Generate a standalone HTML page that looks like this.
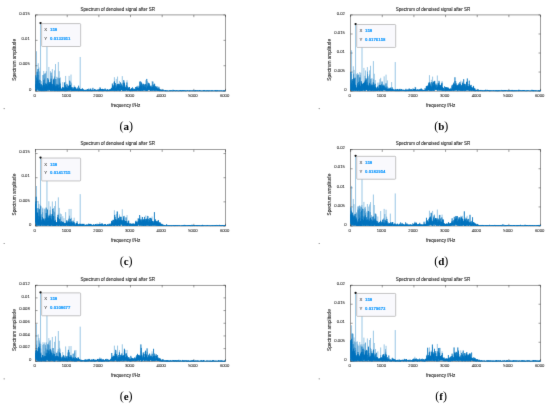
<!DOCTYPE html>
<html><head><meta charset="utf-8"><title>Spectrum of denoised signal after SR</title>
<style>
html,body{margin:0;padding:0;background:#fff;}
body{width:550px;height:409px;overflow:hidden;}
svg{display:block;}
.t{font-family:"Liberation Sans",Arial,sans-serif;font-size:4.2px;fill:#262626;stroke:#262626;stroke-width:0.05px;}
.l{font-family:"Liberation Sans",Arial,sans-serif;font-size:4.6px;fill:#262626;stroke:#262626;stroke-width:0.08px;}
.dl{font-family:"Liberation Sans",Arial,sans-serif;font-size:4.3px;fill:#333;stroke:#333;stroke-width:0.06px;}
.dv{font-family:"Liberation Sans",Arial,sans-serif;font-size:4.3px;font-weight:bold;fill:#0a96ff;stroke:#0a96ff;stroke-width:0.12px;}
.s{font-family:"Liberation Serif","Times New Roman",serif;font-size:12px;fill:#000;}
</style></head><body>
<svg width="550" height="409" viewBox="0 0 550 409">
<defs><filter id="bl" x="0" y="0" width="550" height="409" filterUnits="userSpaceOnUse" color-interpolation-filters="sRGB"><feConvolveMatrix order="3" kernelMatrix="0.00524 0.06192 0.00524 0.06192 0.73137 0.06192 0.00524 0.06192 0.00524" divisor="1" edgeMode="duplicate"/></filter></defs>
<g filter="url(#bl)"><rect width="550" height="409" fill="#fff"/>
<g><rect x="35.55" y="14.95" width="189.95" height="76.15" fill="none" stroke="#262626" stroke-width="0.45"/><path d="M35.55 91.10v-2.2M35.55 14.95v2.2" stroke="#262626" stroke-width="0.45"/><text x="34.65" y="97.05" text-anchor="middle" class="t">0</text><path d="M67.21 91.10v-2.2M67.21 14.95v2.2" stroke="#262626" stroke-width="0.45"/><text x="66.31" y="97.05" text-anchor="middle" class="t">1000</text><path d="M98.87 91.10v-2.2M98.87 14.95v2.2" stroke="#262626" stroke-width="0.45"/><text x="97.97" y="97.05" text-anchor="middle" class="t">2000</text><path d="M130.52 91.10v-2.2M130.52 14.95v2.2" stroke="#262626" stroke-width="0.45"/><text x="129.62" y="97.05" text-anchor="middle" class="t">3000</text><path d="M162.18 91.10v-2.2M162.18 14.95v2.2" stroke="#262626" stroke-width="0.45"/><text x="161.28" y="97.05" text-anchor="middle" class="t">4000</text><path d="M193.84 91.10v-2.2M193.84 14.95v2.2" stroke="#262626" stroke-width="0.45"/><text x="192.94" y="97.05" text-anchor="middle" class="t">5000</text><path d="M225.50 91.10v-2.2M225.50 14.95v2.2" stroke="#262626" stroke-width="0.45"/><text x="224.60" y="97.05" text-anchor="middle" class="t">6000</text><path d="M35.55 91.10h2M225.50 91.10h-2" stroke="#262626" stroke-width="0.45"/><text x="31.45" y="90.80" text-anchor="end" class="t">0</text><path d="M35.55 65.72h2M225.50 65.72h-2" stroke="#262626" stroke-width="0.45"/><text x="29.75" y="65.42" text-anchor="end" class="t">0.005</text><path d="M35.55 40.33h2M225.50 40.33h-2" stroke="#262626" stroke-width="0.45"/><text x="29.75" y="40.03" text-anchor="end" class="t">0.01</text><path d="M35.55 14.95h2M225.50 14.95h-2" stroke="#262626" stroke-width="0.45"/><text x="29.75" y="14.65" text-anchor="end" class="t">0.015</text><path transform="translate(35.55 91.10) scale(0.06667 0.03400)" d="M0-93l1-107 1 87 1-95 1-256 1 284 1 125 1-23 1 45 1-85 1 105 1-285 1 204 1 85 1-24 1-51 1 5 1-318 1 267 1 79 1-4 1-139 1 25 1 24 1-424 1 288 1 233 1-11 1 14 1-20 1-267 1 177 1 69 1-250 1 64 1 169 1 24 1-570 1 495 1 97 1-241 1 245 1 12 1-53 1-8 1 3 1 49 1 5 1-3 1-30 1 60 1-87 1 46 1-35 1-129 1 84 1 51 1-108 1-38 1 192 1 14 1 7 1-91 1-115 1 218 1-38 1-277 1 148 1-8 1 119 1-55 1 22 1 10 1 1 1 79 1-115 1 92 1-93 1 107 1-20 1-161 1 70 1 0 1 20 1 6 1 72 1-85 1 115 1-199 1 184 1-34 1 14 1 18 1-66 1 32 1-116 1 7 1 159 1-83 1 63 1-52 1 14 1-26 1 56 1-52 1 65 1-28 1-53 1-72 1 139 1-30 1-68 1 125 1-37 1 0 1 39 1-31 1 4 1-217 1 123 1 23 1-27 1-75 1 165 1-176 1-113 1 180 1 119 1-12 1-29 1 41 1 8 1 5 1-43 1 24 1-50 1-95 1 121 1 31 1-33 1-52 1 21 1 65 1-88 1 72 1 26 1-47 1 34 1-201 1 148 1 32 1 19 1-68 1 54 1-6 1-94 1 47 1 92 1-199 1 159 1-11 1 44 1-44 1-72 1 55 1-110 1-26 1 202 1-34 1-90 1 53 1 62 1-21 1-176 1-36 1 23 1 187 1-119 1 24 1 19 1 74 1-80 1 36 1-297 1 249 1 46 1 25 1 57 1-171 1 156 1-20 1-72 1 21 1-248 1 303 1-132 1-12 1 38 1-2 1 48 1-125 1 2 1 130 1-169 1 193 1 23 1-66 1-80 1 109 1-53 1 96 1-179 1 39 1 127 1 3 1-43 1 67 1-248 1 174 1 83 1-1 1-107 1-147 1 264 1-53 1 1 1-60 1-104 1 132 1-9 1 45 1-82 1 80 1-312 1 343 1 14 1-182 1 140 1-75 1 27 1 72 1-25 1 18 1-181 1 35 1 134 1-128 1 125 1 24 1-187 1 165 1 40 1-1 1-95 1 45 1 13 1-10 1-82 1 76 1 54 1-81 1 48 1-160 1 104 1 91 1-122 1 59 1 13 1-279 1 278 1-22 1 54 1-236 1-103 1 261 1 64 1-27 1-107 1 13 1 135 1-15 1 14 1-58 1 56 1-67 1 69 1 20 1-26 1-161 1 183 1-31 1-7 1 38 1-36 1-74 1 31 1 39 1 23 1-127 1 106 1 7 1 35 1-36 1-9 1 26 1 15 1-90 1 27 1 47 1-48 1 64 1-153 1 139 1-56 1 69 1-2 1-99 1 92 1-142 1 54 1 74 1-179 1 171 1-23 1-16 1-37 1 62 1 48 1-10 1-151 1 65 1 102 1-71 1-31 1 80 1 10 1-63 1-59 1-57 1 146 1-8 1 1 1-28 1 62 1 2 1-68 1 15 1 33 1-49 1 28 1 37 1-160 1 145 1 24 1-63 1 66 1-39 1-3 1 8 1 22 1-45 1-4 1 41 1-8 1-81 1 54 1-15 1 15 1 48 1-207 1 56 1 28 1 120 1-115 1 25 1 46 1 48 1-25 1 10 1 16 1-42 1-13 1 54 1-19 1 4 1 27 1-4 1-37 1 26 1-22 1-1 1-13 1 50 1-18 1 15 1-70 1 71 1-3 1-70 1 53 1-32 1 29 1 15 1-98 1 28 1 69 1-31 1 32 1-62 1-30 1-11 1 95 1-20 1 36 1-66 1 17 1 14 1-56 1 56 1 34 1-94 1 75 1 17 1-7 1 9 1-2 1-52 1 9 1 43 1-15 1-47 1 59 1-76 1 85 1-253 1 226 1-1 1 30 1-41 1-9 1 14 1 16 1-17 1-26 1-17 1 41 1-143 1 182 1-45 1-66 1 21 1 47 1 7 1-104 1 111 1 24 1-36 1-52 1 93 1-56 1-67 1 50 1-14 1 67 1-14 1 15 1 9 1-4 1 5 1-43 1 41 1-201 1 205 1-91 1 74 1-57 1 9 1 58 1-38 1 23 1 20 1-31 1-36 1 46 1-141 1 155 1-47 1-15 1 47 1-67 1 33 1 48 1-70 1 64 1-16 1 15 1 7 1-124 1 119 1 2 1-80 1-52 1 78 1 27 1-71 1 51 1-70 1-18 1 5 1 144 1-169 1 113 1-60 1-183 1 274 1 13 1-57 1-68 1 115 1-22 1-2 1 32 1-153 1 92 1-93 1 79 1 60 1-50 1 2 1-40 1 2 1 90 1-56 1 36 1-52 1 48 1 31 1-87 1 48 1 26 1 9 1-33 1 23 1 15 1 22 1-49 1 17 1-5 1 35 1-61 1-24 1 76 1-7 1-29 1 27 1-21 1 22 1-35 1 24 1-88 1 98 1 2 1-33 1 32 1-12 1 7 1-10 1-21 1 53 1-65 1 46 1-41 1 41 1 4 1 9 1-67 1 18 1-1 1-41 1 81 1 0 1 10 1-14 1 17 1-52 1-45 1 85 1-103 1 21 1 64 1-92 1 124 1-20 1-13 1-4 1-53 1-10 1 71 1 26 1-49 1 34 1-69 1 32 1 24 1 16 1-39 1 51 1 3 1-32 1 28 1-63 1 9 1 41 1-14 1-9 1 27 1 12 1-16 1 9 1 4 1-40 1 32 1-3 1-11 1-19 1 32 1-61 1-26 1 44 1 40 1-20 1-5 1-9 1 42 1-10 1 4 1-2 1 13 1-59 1 60 1 2 1-11 1 14 1-32 1 21 1-29 1-118 1 113 1 35 1-29 1 24 1 3 1-18 1 23 1-7 1-34 1-6 1 45 1-8 1-79 1 56 1-17 1 55 1-7 1-47 1 46 1-26 1 25 1-5 1-2 1-33 1 23 1 26 1-20 1 11 1-2 1-34 1 32 1 3 1-12 1 6 1 12 1-14 1-25 1 33 1-22 1 24 1 5 1-7 1-44 1 28 1 9 1 16 1-14 1 6 1 5 1 0 1-35 1 15 1 17 1-14 1-7 1-55 1 50 1 30 1-21 1 14 1-3 1-39 1 17 1 20 1-29 1 23 1 21 1-3 1-19 1-16 1 40 1-4 1 1 1-8 1-31 1 39 1-11 1 2 1 3 1 5 1-7 1 0 1-4 1-1 1 15 1-24 1 20 1-29 1-1 1 27 1-8 1 8 1-19 1 24 1-19 1 19 1-10 1-1 1 4 1-4 1 15 1-27 1 15 1-7 1 16 1-21 1 1 1 16 1 3 1-38 1 21 1 16 1-2 1-10 1 11 1-21 1-12 1 30 1 0 1-9 1-8 1 15 1-22 1 12 1 10 1 4 1-15 1 4 1-12 1 28 1-39 1 35 1-54 1 46 1-7 1 13 1 1 1-29 1 20 1-7 1-3 1 26 1-25 1 9 1 7 1 6 1-17 1-9 1 14 1-8 1-9 1 5 1-45 1 65 1 0 1-47 1 24 1 18 1-21 1 24 1-11 1 16 1-23 1 3 1 5 1 9 1 8 1-19 1-4 1 11 1 11 1-4 1-15 1 22 1-11 1-3 1 11 1-12 1-31 1 29 1-58 1 64 1 9 1-42 1-2 1 41 1-23 1 19 1-15 1 20 1-10 1 0 1 14 1-32 1 8 1 19 1-2 1 2 1-12 1 2 1-7 1 20 1-37 1 32 1-1 1-3 1-7 1 15 1-31 1 33 1-15 1-10 1 23 1-92 1 86 1 6 1-23 1 12 1 6 1 2 1-15 1 4 1-8 1 6 1-3 1 4 1 4 1 0 1 11 1-10 1 2 1 3 1-24 1 13 1-2 1-42 1 62 1-11 1-18 1 9 1 3 1 10 1-38 1 31 1 9 1 3 1-26 1-13 1 35 1 4 1-40 1 36 1-9 1 2 1 6 1-4 1 3 1-6 1-14 1 28 1-24 1 16 1-24 1 12 1-8 1 17 1-17 1 15 1 2 1-8 1 1 1-3 1 5 1 14 1-1 1-9 1-5 1 5 1-36 1 44 1-13 1 6 1 3 1 6 1-17 1-5 1 10 1-3 1-9 1 20 1-24 1-9 1 10 1 0 1 17 1-16 1 15 1 5 1 5 1-22 1 3 1 10 1 13 1-38 1-1 1 36 1-2 1-3 1-5 1-2 1-49 1 45 1 4 1-26 1 25 1 1 1 5 1-7 1-9 1 26 1-21 1 9 1-43 1 32 1-77 1 75 1 4 1 3 1-23 1 32 1-10 1-39 1 12 1 36 1-5 1 4 1-44 1 39 1 5 1-9 1 4 1 2 1-45 1 46 1-10 1 17 1-2 1 0 1-13 1-29 1 50 1-14 1 11 1 2 1-8 1 8 1-10 1-55 1 50 1-40 1 12 1 37 1-6 1-23 1 22 1-12 1-24 1 25 1-4 1 23 1 4 1-13 1-15 1-23 1 33 1 19 1-2 1-1 1-22 1 5 1 0 1 9 1-22 1 29 1-5 1-33 1 37 1-7 1 5 1-25 1 13 1 9 1-4 1-11 1-27 1 50 1-75 1 49 1 22 1 2 1-24 1 16 1-26 1 22 1-2 1 9 1-8 1-12 1-10 1 23 1 6 1 5 1 2 1-20 1 13 1-17 1 11 1-11 1-12 1 30 1 0 1-13 1 19 1-22 1 26 1-1 1-22 1 22 1-33 1 2 1 26 1-43 1 30 1 9 1-18 1-18 1-6 1 31 1 15 1-39 1 32 1-13 1 9 1 5 1 2 1 0 1 5 1-27 1 30 1-18 1 13 1-15 1 12 1 4 1 0 1-2 1 4 1-30 1 16 1-6 1 5 1-2 1 19 1-43 1 33 1 9 1-17 1 5 1-31 1 42 1-1 1-10 1 10 1-44 1 26 1-32 1 43 1-14 1-7 1 15 1 9 1 5 1-16 1-3 1 20 1-18 1-41 1 16 1 7 1-54 1 10 1 13 1 55 1-53 1 32 1-49 1 73 1-9 1-31 1 38 1-50 1-42 1 3 1 97 1-62 1-154 1 101 1-35 1-13 1 148 1-14 1 8 1-113 1 85 1-23 1 8 1 49 1 12 1-124 1 95 1-45 1-18 1 95 1-93 1 0 1 13 1 41 1-128 1 113 1 24 1 23 1-77 1-12 1-155 1 107 1 93 1-229 1 285 1-71 1-111 1 112 1-20 1 37 1 33 1-1 1-35 1 10 1-124 1 142 1-73 1-135 1 83 1 70 1 75 1-24 1 13 1-69 1 15 1 54 1 7 1-1 1-56 1 46 1-9 1 16 1-26 1 39 1-69 1 42 1 5 1-106 1 70 1 51 1-181 1 133 1-76 1-7 1 124 1-43 1-25 1 74 1-43 1-151 1 62 1 79 1 16 1-49 1-51 1 113 1 7 1-22 1-149 1 151 1-17 1-12 1 22 1 9 1 45 1-213 1 165 1 5 1-98 1 36 1 40 1 25 1-20 1-89 1 81 1 46 1-152 1 85 1-115 1 110 1 65 1 29 1-38 1-17 1 39 1-5 1 13 1-38 1 22 1-45 1 70 1-17 1-135 1 47 1-151 1 153 1 101 1-66 1-78 1 18 1 11 1 9 1 32 1 45 1-120 1-69 1 154 1-6 1-51 1 87 1 6 1-40 1-116 1 152 1-23 1-84 1 85 1-50 1 35 1 34 1-127 1 152 1-13 1 7 1-1 1 10 1-104 1 26 1 67 1 1 1-32 1-49 1 10 1 53 1-47 1-158 1 194 1-58 1 89 1-81 1 86 1-74 1 77 1-312 1 293 1-13 1-74 1 86 1 16 1-99 1 98 1-74 1-58 1-97 1 114 1-83 1 162 1-18 1 0 1 33 1-88 1 119 1-23 1 20 1-3 1-118 1 38 1 16 1 35 1 5 1-57 1 68 1 16 1-43 1-14 1-34 1 9 1 75 1-89 1 73 1-62 1-83 1 146 1 4 1-5 1-9 1-28 1 4 1 29 1-20 1-198 1 61 1 136 1 10 1 17 1-3 1 16 1-24 1-93 1 2 1 78 1-7 1 46 1-16 1-24 1 48 1-57 1 17 1-15 1 8 1-43 1 18 1 33 1 21 1-1 1-15 1-48 1 44 1-17 1 36 1-33 1 46 1-99 1 46 1-40 1 60 1 37 1 3 1-116 1 103 1-38 1 25 1 9 1 20 1-5 1-13 1 19 1-19 1 12 1-9 1 10 1-11 1-2 1 12 1 7 1-6 1-3 1-39 1 47 1-10 1-27 1 13 1 17 1-21 1-18 1 12 1 35 1-80 1 51 1 21 1 6 1-83 1 76 1-18 1 19 1-6 1 3 1-15 1 17 1-41 1 44 1-37 1 43 1-32 1-78 1 110 1-64 1 26 1 19 1 7 1-7 1 0 1 6 1 4 1-11 1-11 1-19 1 40 1-20 1 23 1 4 1-71 1 38 1 22 1-7 1 10 1-13 1 22 1-33 1-6 1 1 1 17 1 13 1-55 1 64 1-39 1 29 1-1 1-9 1-34 1 25 1 6 1-7 1 17 1-38 1 20 1 11 1 18 1-12 1-5 1 16 1-102 1 26 1-30 1 39 1 39 1 11 1 14 1-109 1 93 1-9 1 31 1-11 1-14 1 11 1-46 1 24 1-96 1 102 1-39 1 68 1-9 1-37 1-1 1 45 1-94 1 12 1 23 1-8 1 5 1 37 1-26 1 23 1-76 1 49 1 40 1-1 1-135 1 73 1 57 1-39 1-12 1 47 1-49 1 2 1 73 1-19 1 11 1-12 1 18 1-92 1 27 1 10 1-27 1 1 1 12 1 8 1-37 1 42 1-51 1 31 1 64 1-125 1 124 1-259 1 273 1-78 1 74 1-45 1 37 1-27 1-237 1 268 1-70 1 73 1-179 1 105 1 11 1-76 1 22 1 70 1 45 1 4 1-26 1-1 1-74 1-17 1 114 1-54 1-187 1 232 1-50 1 24 1-91 1 62 1-146 1 180 1 15 1-20 1 2 1 29 1-15 1-16 1-24 1 60 1-15 1-167 1 187 1-19 1-39 1 15 1 8 1-84 1 3 1-41 1 141 1-35 1-17 1-139 1 190 1-40 1-43 1 73 1-35 1 2 1-20 1 15 1-71 1 36 1 63 1-26 1-124 1 153 1 24 1-106 1 84 1-29 1 32 1-67 1 76 1-95 1-69 1 168 1-85 1 39 1 20 1 5 1 28 1-185 1-10 1 186 1-82 1 59 1-48 1 28 1-33 1 57 1 34 1-47 1 22 1-17 1 9 1 6 1 9 1 22 1-1 1-17 1 20 1-355 1 305 1 10 1-147 1 176 1-48 1-20 1 16 1 40 1 19 1-40 1 15 1-88 1 68 1-88 1 93 1-88 1 113 1 3 1-39 1-27 1-164 1 190 1 32 1-20 1-1 1-16 1 28 1-67 1-129 1 161 1 27 1-120 1 19 1 59 1-29 1-5 1-100 1 188 1-121 1 71 1 17 1 2 1-13 1 35 1-77 1 53 1 33 1-137 1 94 1-47 1 55 1-10 1 43 1-8 1 29 1-106 1 83 1 32 1-146 1 138 1-104 1 110 1-36 1 29 1-70 1-2 1 52 1 0 1-22 1-59 1 94 1-57 1 33 1-34 1 11 1-95 1 73 1 14 1 30 1 14 1-19 1-3 1-2 1 14 1 8 1-80 1 95 1-101 1 103 1 10 1-274 1 103 1 153 1-80 1 4 1 66 1-29 1-127 1 117 1 38 1 6 1 4 1-119 1 59 1-3 1 16 1 49 1 13 1-88 1 82 1-18 1-98 1-60 1 152 1-32 1 70 1-82 1-133 1 113 1 42 1 11 1 8 1 10 1-12 1-68 1 81 1-26 1-74 1 90 1 28 1 4 1 9 1-23 1-56 1-72 1 140 1-57 1 48 1 2 1-60 1 20 1-9 1 12 1-52 1 56 1-32 1 35 1 36 1-98 1 47 1 41 1-38 1-10 1 25 1-93 1 111 1-31 1 25 1-26 1 53 1-73 1 46 1-5 1 0 1-2 1 35 1-22 1 14 1 11 1-10 1 8 1-3 1-9 1 10 1-74 1 60 1 0 1-10 1-14 1 6 1-3 1-85 1 121 1-44 1-30 1 66 1 2 1-48 1 59 1-27 1 22 1-4 1-20 1 14 1-43 1 8 1 35 1 15 1-21 1 20 1-13 1 14 1-3 1-10 1-12 1 2 1-1 1 6 1-32 1 12 1 28 1-24 1 7 1 22 1-9 1 4 1 4 1-4 1-11 1 13 1 9 1-20 1 17 1-5 1 7 1-10 1-28 1 10 1 9 1 8 1 2 1-16 1 15 1-25 1 26 1-15 1 11 1 6 1-13 1 19 1-9 1-1 1 8 1 0 1-8 1-36 1 29 1 16 1-9 1 6 1-11 1 11 1 5 1-2 1-2 1-12 1 12 1-4 1 1 1-3 1 7 1-9 1 0 1-3 1 6 1 0 1-1 1-5 1 11 1 0 1-4 1 8 1-3 1-6 1 6 1 2 1-5 1 1 1-25 1 31 1-5 1-17 1 21 1-6 1 0 1 7 1-5 1-13 1 15 1-4 1-2 1 6 1-8 1 10 1-2 1 2 1 0 1 1 1-2 1-12 1 7 1 3 1 0 1-3 1 6 1-7 1-2 1 9 1-14 1 9 1 2 1 1 1 2 1-2 1-10 1 0 1 12 1 0 1-1 1 0 1 1 1-9 1 4 1 1 1-2 1 3 1-1 1 1 1 2 1 0 1-2 1 2 1-2 1 0 1 3 1-12 1 2 1 3 1-2 1 0 1-2 1 2 1 9 1-11 1 7 1-9 1 11 1-2 1-25 1 28 1-2 1 1 1 2 1-3 1-6 1-4 1 7 1 7 1-1 1-7 1 5 1 1 1-5 1-12 1 13 1 5 1-2 1-5 1-4 1 5 1-1 1-5 1 9 1-15 1 11 1-7 1 13 1-1 1 3 1-5 1-1 1-7 1 1 1 5 1-1 1 1 1 7 1-1 1-4 1-1 1-3 1-1 1 5 1-34 1 32 1 4 1-7 1 8 1-5 1 6 1-12 1 11 1-4 1-1 1 3 1 2 1-21 1 9 1 11 1-2 1-7 1 8 1-2 1-6 1-6 1-4 1 14 1 3 1-17 1 18 1 1 1 2 1-4 1 4 1-6 1-4 1 9 1 0 1-2 1-2 1 3 1-3 1-2 1 8 1-4 1 1 1-9 1 11 1-12 1-9 1 10 1 5 1 5 1-12 1 3 1 4 1-4 1 4 1 5 1 0 1-22 1 18 1-2 1 4 1-2 1 4 1-7 1-2 1 9 1-2 1-8 1-2 1 8 1-2 1 6 1 1 1-7 1-2 1 9 1-7 1 2 1 2 1-3 1 0 1-9 1 16 1-5 1 0 1-1 1 6 1-7 1 3 1-1 1 2 1-2 1-2 1-1 1 0 1 7 1-12 1 3 1 7 1-4 1-6 1 12 1-14 1 13 1-3 1-3 1-14 1 17 1 0 1 1 1-26 1 24 1-2 1-11 1 10 1 7 1-9 1 8 1 3 1-6 1 1 1-8 1 12 1 0 1-4 1 4 1-4 1 3 1-19 1 13 1 8 1-6 1-1 1 1 1-2 1 4 1-13 1 16 1-7 1 2 1 0 1 4 1-10 1 6 1 2 1 2 1-24 1 25 1-24 1 21 1-4 1-4 1 0 1 8 1-6 1-10 1 15 1-3 1 3 1 4 1 0 1-2 1-1 1-5 1-13 1 15 1-11 1 12 1 5 1-1 1-10 1 10 1-4 1 3 1-3 1-9 1 3 1 8 1-4 1-2 1 8 1-19 1 20 1-13 1 9 1-1 1 1 1 1 1 4 1-3 1-1 1-1 1-1 1 3 1-3 1 0 1 5 1-3 1 2 1-9 1 9 1 0 1 1 1-3 1 1 1-9 1-1 1 10 1-5 1-1 1 5 1-1 1-19 1 21 1-10 1-3 1 9 1-4 1-6 1 8 1-1 1 7 1-4 1 3 1-8 1 2 1 2 1 7 1-6 1 0 1 4 1-4 1 3 1 1 1-5 1 4 1 0 1 2 1-3 1-7 1 10 1-9 1-6 1 13 1 3 1 1 1-2 1-10 1 3 1 0 1 9 1-2 1-13 1 14 1-3 1-1 1-4 1-9 1 15 1 2 1-13 1 5 1 6 1-3 1 0 1-2 1 0 1 5 1-4 1 2 1 3 1-5 1 5 1-5 1 1 1-2 1-1 1 5 1 4 1-2 1-3 1 1 1-10 1-6 1 12 1 5 1-12 1 12 1 1 1-11 1 8 1 0 1 4 1-1 1-2 1-5 1-1 1 5 1 5 1-4 1-6 1-2 1 7 1-2 1 2 1-5 1-9 1 13 1 0 1 4 1-3 1-2 1-3 1 5 1 4 1-16 1 15 1-1 1 1 1-8 1-1 1-2 1 10 1-3 1 5 1-6 1 0 1-2 1 9 1-10 1 3 1 4 1-7 1 8 1-8 1 0 1-9 1 19 1-17 1 2 1 14 1-13 1 5 1 5 1-4 1 0 1 6 1-10 1 11 1-9 1 7 1-2 1-5 1 4 1 2 1-3 1 3 1-14 1 17 1-5 1 2 1-6 1 2 1 4 1-1 1-2 1 5 1-4 1 3 1 0 1-25 1 15 1 12 1-8 1 5 1 1 1-3 1 0 1 5 1-4 1-7 1 6 1 3 1 0 1-1 1-2 1 1 1 1 1-6 1 6 1-16 1 16 1 0 1 2 1 0 1-4 1 0 1-21 1 20 1-8 1 12 1-15 1 12 1 1 1 4 1-2 1-4 1 5 1-2 1-4 1 3 1-7 1 6 1-9 1 10 1 4 1-8 1 8 1-4 1-4 1 8 1 1 1-4 1 0 1-5 1-1 1 9 1-6 1 0 1 5 1 0 1-2 1 1 1-4 1 1 1 3 1-2 1 1 1-4 1 6 1-4 1 0 1-2 1 3 1 4 1-8 1 0 1 2 1 6 1-8 1 0 1 3 1 5 1-10 1 10 1-5 1-16 1 16 1 2 1-2 1-12 1 16 1-3 1-11 1 15 1-6 1 1 1-10 1 11 1 1 1-15 1 16 1-4 1 6 1-13 1 12 1 1 1-11 1 7 1 2 1 2 1 0 1-10 1 2 1 5 1 4 1-3 1-5 1-1 1 7 1-1 1-2 1-7 1 10 1-5 1 5 1 2 1-7 1 3 1-9 1 11 1-4 1-7 1 9 1 2 1 0 1-10 1 11 1-1 1-1 1 2 1-4 1 4 1-14 1 0 1 8 1 1 1 3 1-11 1-10 1 21 1-8 1 5 1 4 1-3 1 3 1 2 1-4 1 2 1 0 1 0 1-10 1 10 1-5 1 1 1-5 1 11 1-1 1-14 1 8 1 6 1-6 1 6 1-4 1-11 1 10 1-8 1 3 1 3 1 4 1 2 1-3 1-6 1 11 1-2 1-7 1 5 1 3 1-1 1-2 1-8 1 5 1 2 1 3 1-10 1 10 1-2 1-4 1 3 1 3 1-2 1 3 1-3 1-8 1 9 1 1 1-5 1 6 1 0 1 1 1-16 1 11 1-7 1 5 1 4 1-19 1 21 1-6 1-9 1 15 1-7 1 3 1-5 1-5 1 4 1 5 1 1 1-1 1 2 1-1 1 4 1-4 1 4 1-1 1-8 1 6 1 2 1-1 1-6 1 1 1 7 1-3 1-3 1 0 1-2 1 6 1 0 1-15 1 7 1-1 1 4 1 1 1-2 1-5 1 11 1 1 1-3 1 1 1 2 1-9 1 9 1 2 1-5 1 1 1 1 1-18 1 12 1 6 1-10 1 12 1-1 1 1 1-19 1 17 1 2 1-15 1 10 1 5 1-23 1 1 1 14 1 9 1-4 1-1 1 2 1 0 1-3 1 4 1 1 1-3 1 4 1-14 1 1 1 7 1 2 1 1 1-11 1 11 1-6 1 3 1 0 1-21 1 26 1-3 1-1 1 3 1 1 1-6 1 4 1-5 1 4 1-3 1 5 1-5 1 7 1-10 1 0 1 6 1-4 1 1 1 2 1-2 1 1 1 1 1 2 1-1 1-8 1 12 1-10 1 1 1 3 1-2 1 5 1-10 1 12 1 0 1-6 1-3 1-2 1 5 1 2 1-3 1-5 1 11 1 0 1-3 1-2 1-1 1 0 1 2 1-5 1-1 1 8 1 3 1-7 1 2 1 0 1-6 1 10 1-3 1-11 1 14 1 0 1-3 1-1 1-3 1 8 1-4 1-1 1 5 1-3 1 0 1 1 1 1 1-2 1 0 1-6 1 8 1-2 1 3 1 1 1-5 1-3 1 8 1 0 1-1 1-4 1-2 1 2 1 4 1-9 1 8 1 0 1-16 1 13 1-5 1 8 1-2 1 1 1-8 1 2 1 7 1-5 1 3 1 1 1 2 1-11 1 7 1-10 1 12 1-1 1 1 1-1 1 1 1-4 1 5 1-1 1 0" fill="none" stroke="#0072bd" stroke-width="0.6" vector-effect="non-scaling-stroke" stroke-linejoin="round"/><path d="M36.50 91.10V51.23M38.24 91.10V63.22M39.03 91.10V67.50M40.55 91.10V23.10M42.83 91.10V75.08M44.73 91.10V73.42M45.05 91.10V73.98M46.95 91.10V41.47M48.85 91.10V66.96M50.43 91.10V71.14M52.33 91.10V69.10M54.55 91.10V70.35M55.49 91.10V64.06M58.34 91.10V62.06M59.29 91.10V71.20M62.78 91.10V82.14M65.63 91.10V75.94M69.11 91.10V75.88M71.01 91.10V74.54M80.19 91.10V56.97M99.82 91.10V87.03M114.38 91.10V77.21M116.28 91.10V78.87M117.55 91.10V76.57M119.44 91.10V80.88M122.29 91.10V76.14M124.19 91.10V81.45M127.04 91.10V80.25M140.97 91.10V81.48M143.19 91.10V83.71M145.72 91.10V80.16M147.30 91.10V81.09M149.52 91.10V83.60M152.05 91.10V81.16M59.37 91.10V77.95M38.62 91.10V74.98M41.39 91.10V81.11M51.91 91.10V75.70M54.10 91.10V80.24M57.83 91.10V78.18M44.00 91.10V74.41M56.44 91.10V79.12M60.45 91.10V77.46M39.66 91.10V71.33M59.41 91.10V78.65M57.77 91.10V77.37M43.71 91.10V70.97M51.36 91.10V72.44M51.39 91.10V81.01M39.22 91.10V79.24M45.42 91.10V72.87M44.56 91.10V78.54M55.45 91.10V79.03M59.96 91.10V81.77M37.42 91.10V74.92M56.70 91.10V76.74M50.98 91.10V72.87M54.42 91.10V77.68M53.80 91.10V81.29M55.45 91.10V79.15M54.44 91.10V76.38M46.26 91.10V71.15M58.97 91.10V78.37M43.06 91.10V74.96M70.00 91.10V84.51M71.62 91.10V83.32M70.81 91.10V81.94M64.40 91.10V83.10M74.16 91.10V85.25M65.73 91.10V81.77" stroke="#0072bd" stroke-width="0.5" fill="none" opacity="0.8"/><text x="117.85" y="10.65" text-anchor="middle" class="l" style="font-size:4.5px">Spectrum of denoised signal after SR</text><text x="125.65" y="106.60" text-anchor="middle" class="l" style="font-size:4.55px">frequency f/Hz</text><text transform="translate(15.60 59.80) rotate(-90)" text-anchor="middle" class="l" style="font-size:4.7px">Spectrum amplitude</text><rect x="41.65" y="23.60" width="39" height="22.9" rx="0.8" fill="#f9f9fd" stroke="#a6a6a6" stroke-width="0.65"/><circle cx="40.55" cy="23.10" r="1.15" fill="#111"/><text x="44.35" y="31.20" class="dl">X</text><text x="50.05" y="31.20" class="dv">158</text><text x="44.35" y="39.90" class="dl">Y</text><text x="50.05" y="39.90" class="dv">0.0133951</text><text x="126.15" y="130.00" text-anchor="middle" class="s">(<tspan font-weight="bold" font-size="11">a</tspan>)</text><circle cx="4.15" cy="108.60" r="0.6" fill="#777"/></g>
<g><rect x="350.60" y="14.95" width="189.95" height="76.15" fill="none" stroke="#262626" stroke-width="0.45"/><path d="M350.60 91.10v-2.2M350.60 14.95v2.2" stroke="#262626" stroke-width="0.45"/><text x="349.70" y="97.05" text-anchor="middle" class="t">0</text><path d="M382.26 91.10v-2.2M382.26 14.95v2.2" stroke="#262626" stroke-width="0.45"/><text x="381.36" y="97.05" text-anchor="middle" class="t">1000</text><path d="M413.92 91.10v-2.2M413.92 14.95v2.2" stroke="#262626" stroke-width="0.45"/><text x="413.02" y="97.05" text-anchor="middle" class="t">2000</text><path d="M445.58 91.10v-2.2M445.58 14.95v2.2" stroke="#262626" stroke-width="0.45"/><text x="444.68" y="97.05" text-anchor="middle" class="t">3000</text><path d="M477.23 91.10v-2.2M477.23 14.95v2.2" stroke="#262626" stroke-width="0.45"/><text x="476.33" y="97.05" text-anchor="middle" class="t">4000</text><path d="M508.89 91.10v-2.2M508.89 14.95v2.2" stroke="#262626" stroke-width="0.45"/><text x="507.99" y="97.05" text-anchor="middle" class="t">5000</text><path d="M540.55 91.10v-2.2M540.55 14.95v2.2" stroke="#262626" stroke-width="0.45"/><text x="539.65" y="97.05" text-anchor="middle" class="t">6000</text><path d="M350.60 91.10h2M540.55 91.10h-2" stroke="#262626" stroke-width="0.45"/><text x="346.50" y="90.80" text-anchor="end" class="t">0</text><path d="M350.60 72.06h2M540.55 72.06h-2" stroke="#262626" stroke-width="0.45"/><text x="344.80" y="71.76" text-anchor="end" class="t">0.005</text><path d="M350.60 53.02h2M540.55 53.02h-2" stroke="#262626" stroke-width="0.45"/><text x="344.80" y="52.73" text-anchor="end" class="t">0.01</text><path d="M350.60 33.99h2M540.55 33.99h-2" stroke="#262626" stroke-width="0.45"/><text x="344.80" y="33.69" text-anchor="end" class="t">0.015</text><path d="M350.60 14.95h2M540.55 14.95h-2" stroke="#262626" stroke-width="0.45"/><text x="344.80" y="14.65" text-anchor="end" class="t">0.02</text><path transform="translate(350.60 91.10) scale(0.06667 0.03354)" d="M0-161l1 106 1 21 1-536 1 219 1 193 1-46 1-122 1 277 1-3 1-140 1 156 1-150 1 101 1-166 1 238 1-87 1 17 1 65 1-144 1 67 1 86 1-9 1-16 1-81 1 46 1-290 1 113 1-6 1-57 1 172 1 118 1-104 1 53 1-166 1 222 1-2 1-203 1 85 1 81 1 40 1-236 1 160 1-65 1 116 1-99 1-190 1-55 1 111 1 158 1-25 1-85 1 202 1-265 1 230 1-46 1-260 1 290 1 38 1-163 1 139 1-35 1 70 1 7 1-184 1 105 1-79 1-225 1 191 1 196 1-139 1-18 1 118 1-26 1 69 1-89 1 34 1-109 1 136 1 9 1-58 1 39 1-35 1 19 1-6 1 60 1-104 1 57 1-34 1 40 1-44 1 62 1-36 1 33 1-31 1 41 1-4 1-15 1 7 1 3 1-70 1 98 1-61 1-32 1 75 1-209 1 223 1-71 1-81 1 65 1 10 1 33 1 40 1-157 1 128 1 3 1-40 1-71 1-10 1 129 1-14 1-42 1-84 1-99 1 63 1 175 1-30 1-78 1-31 1 149 1-112 1 72 1-151 1 175 1-28 1-36 1-60 1 162 1-17 1-391 1 369 1-92 1 90 1 7 1-71 1-55 1 107 1-82 1 126 1-66 1-20 1-26 1 78 1 23 1-48 1 60 1-35 1 7 1-32 1 2 1-230 1 230 1 61 1-221 1 172 1 44 1-240 1 181 1 32 1-44 1 10 1 40 1 15 1-46 1-15 1 53 1-179 1 201 1-158 1 74 1 3 1-129 1 156 1-81 1 56 1-66 1-36 1 82 1 72 1-197 1 188 1-18 1-13 1-4 1-14 1-155 1 232 1-215 1 102 1-82 1 127 1-1 1 18 1 8 1-94 1-66 1 50 1-114 1 266 1-225 1 2 1 206 1-102 1 73 1 43 1-2 1-53 1-62 1 18 1-30 1-171 1 264 1 11 1-158 1-88 1 229 1-57 1-112 1 111 1-52 1 74 1-291 1 124 1 182 1 47 1-44 1-274 1 185 1 105 1-69 1-43 1 136 1-39 1 29 1-53 1 37 1-50 1-152 1 145 1 75 1 29 1-108 1 32 1-86 1 133 1-55 1-79 1 57 1 43 1 34 1 3 1-84 1 73 1-139 1 172 1-52 1-2 1-33 1-31 1 74 1 26 1-82 1 116 1-140 1 77 1-89 1 121 1-84 1-12 1 97 1-59 1 44 1-103 1-97 1 212 1-60 1-63 1 14 1 44 1 71 1-98 1-88 1 174 1-24 1 3 1-57 1 2 1-14 1 90 1 3 1-129 1 142 1-46 1-11 1-10 1 8 1 44 1 31 1-39 1-37 1 64 1-26 1 35 1-167 1 100 1-6 1 7 1-58 1 120 1-147 1 25 1 115 1 7 1-35 1 27 1-31 1-56 1 80 1-51 1 42 1-145 1 24 1 94 1-9 1 13 1 38 1-101 1 63 1-10 1 71 1-260 1 205 1-18 1-25 1-10 1 33 1 23 1 29 1-159 1 72 1 101 1-32 1-14 1-60 1-59 1 103 1 24 1 33 1-87 1 48 1 34 1-82 1 81 1 0 1-60 1 21 1-71 1 89 1-173 1 45 1 145 1-10 1-90 1 24 1 99 1-18 1-42 1-40 1 47 1-12 1 63 1-17 1-1 1-16 1 14 1-77 1 22 1 47 1-16 1 36 1-24 1-2 1-38 1 55 1-17 1 23 1-26 1-10 1 3 1 26 1-76 1-23 1 115 1-23 1 9 1-32 1 26 1-83 1 59 1 23 1-116 1 112 1-15 1 36 1 5 1-18 1-31 1-9 1 9 1-24 1 25 1 18 1-43 1 37 1-20 1 37 1-5 1 2 1-12 1-148 1 160 1 6 1-21 1 32 1-40 1 29 1-52 1 33 1 1 1 0 1 23 1-162 1 121 1 3 1-115 1 118 1 27 1-10 1-13 1-121 1 79 1 21 1-9 1 64 1-30 1-37 1-15 1 57 1-14 1 49 1-52 1-143 1 185 1-69 1 43 1 0 1 18 1 8 1-3 1-32 1-100 1 89 1-225 1 256 1-13 1-17 1 49 1-66 1 7 1 51 1-54 1 70 1-175 1 114 1-87 1 139 1-58 1 19 1-13 1-31 1 16 1 24 1-9 1-90 1 122 1 2 1-5 1-3 1-156 1 108 1 7 1 17 1-69 1 64 1-12 1 18 1 35 1-38 1 22 1 0 1-106 1-14 1 83 1 31 1 20 1 3 1-27 1-74 1 89 1-50 1 59 1-52 1 51 1-11 1-29 1 15 1 26 1-11 1-9 1 34 1-193 1-24 1 121 1 2 1 97 1-89 1 29 1 8 1 1 1 15 1 21 1-34 1 15 1 42 1-59 1 44 1-118 1 121 1-26 1 28 1 7 1-3 1-58 1 62 1-68 1 69 1-54 1 34 1-31 1 40 1 3 1-19 1-30 1 26 1 15 1-22 1 32 1 3 1-14 1-5 1-29 1 37 1 14 1-97 1 48 1 33 1 14 1-52 1 40 1-8 1-25 1-23 1 30 1 6 1 29 1-33 1 19 1-27 1 18 1-8 1 19 1-41 1-8 1-26 1 88 1-70 1 44 1 14 1-27 1-17 1 49 1 6 1 5 1-40 1-65 1 80 1 20 1-2 1-21 1-10 1-13 1 35 1-32 1 39 1 5 1-16 1-16 1 15 1-6 1 14 1-8 1-29 1-5 1 53 1-57 1-47 1 91 1-44 1 32 1-19 1 34 1-9 1-22 1 30 1-45 1-6 1 16 1 38 1-20 1 9 1 14 1-6 1-2 1-11 1-23 1 41 1-17 1 8 1 9 1-2 1-21 1 12 1-5 1 8 1-6 1 12 1 2 1 7 1-5 1-11 1 11 1-38 1 2 1 26 1 0 1-6 1-15 1 10 1 28 1-22 1-11 1 24 1-1 1-32 1-12 1 46 1-12 1 16 1-26 1 7 1 1 1-6 1 28 1-2 1-29 1 30 1-6 1-40 1 44 1-17 1 15 1-6 1 10 1-6 1 3 1-46 1 45 1-29 1 18 1 16 1-14 1-8 1-9 1-16 1 33 1-18 1-31 1 49 1-11 1 24 1-38 1 27 1-6 1 17 1-9 1-4 1 14 1-6 1 4 1-4 1 2 1-29 1 32 1-16 1-38 1 18 1 28 1 3 1-7 1-6 1 14 1 4 1-8 1 8 1-7 1-48 1 44 1-7 1 2 1 16 1-4 1-61 1 48 1-11 1 28 1-2 1-17 1-6 1 20 1-37 1 34 1-17 1-4 1 8 1 17 1-15 1-1 1 19 1 0 1-2 1 3 1-28 1 6 1-2 1-37 1 3 1 36 1 14 1-33 1 40 1-8 1 0 1-2 1 4 1 1 1-17 1 11 1-22 1 10 1 5 1 13 1 0 1-2 1-8 1-23 1 24 1 11 1-5 1-3 1 7 1-12 1-2 1-8 1 2 1 22 1-36 1 23 1 15 1-22 1 11 1-1 1 11 1 1 1-19 1 2 1 18 1-3 1 3 1-17 1-13 1 12 1 4 1 11 1-20 1 15 1 0 1-5 1 12 1-40 1 41 1 1 1-13 1 12 1-1 1-14 1 17 1-31 1 24 1-22 1 6 1-45 1 65 1-20 1 20 1-11 1-8 1 16 1-13 1 14 1-18 1 10 1 12 1-25 1 24 1-11 1-33 1 44 1-3 1 1 1-28 1 28 1-20 1 0 1-2 1 7 1 6 1-29 1 23 1 9 1 6 1-17 1 9 1-17 1 18 1-27 1 20 1-16 1 9 1 17 1-8 1-4 1 20 1-10 1-10 1-20 1-3 1 42 1-48 1 31 1-60 1 43 1 30 1-39 1 41 1-19 1 12 1-9 1 5 1-13 1 25 1-9 1 6 1-12 1-5 1 19 1 1 1-27 1 21 1-35 1 19 1 10 1-25 1 38 1-5 1-45 1 35 1-5 1 14 1-19 1-13 1 26 1 1 1-44 1 53 1-21 1 5 1 6 1 13 1-10 1-2 1-8 1 14 1-6 1-1 1 6 1 2 1 3 1-6 1-1 1 5 1-24 1 4 1 8 1-10 1-18 1 34 1-67 1 72 1 2 1-7 1-15 1 13 1-40 1 36 1 8 1-12 1-1 1 3 1 2 1-10 1 18 1-10 1-33 1 43 1-40 1 38 1-4 1-25 1 12 1 8 1-18 1 37 1-23 1-15 1-25 1 26 1-4 1 22 1-37 1 42 1 12 1-34 1 11 1 15 1-13 1-89 1 95 1-7 1 20 1 2 1-4 1-19 1-1 1-14 1 39 1-37 1 15 1-2 1 16 1-11 1-15 1 22 1-2 1-17 1 29 1-8 1 1 1-16 1-4 1 24 1 4 1-52 1 47 1-29 1 24 1-16 1 19 1 5 1-32 1 27 1-5 1-10 1-24 1 38 1-7 1 11 1-19 1 13 1-18 1 15 1 10 1 0 1-9 1-22 1 23 1 0 1 12 1-29 1-18 1 40 1-2 1 8 1-30 1 6 1 10 1-29 1 43 1-33 1 23 1-16 1 18 1-11 1 17 1-58 1 33 1-2 1 23 1-4 1-6 1-17 1 8 1 23 1-24 1-15 1-7 1 44 1 3 1-25 1-52 1 41 1 37 1-3 1-60 1 37 1 19 1-16 1-2 1 21 1 2 1-16 1-6 1 16 1-9 1-7 1-26 1 25 1 19 1-16 1 5 1-15 1 22 1-5 1 9 1 0 1-20 1 26 1 0 1-14 1-2 1 13 1-33 1 6 1 8 1 12 1-7 1-7 1 12 1-9 1 17 1-22 1 16 1-16 1 23 1-4 1-12 1-4 1 21 1-23 1 12 1 9 1-2 1-22 1 20 1 6 1-1 1-13 1-68 1 72 1 1 1-3 1 9 1-2 1-31 1 38 1-10 1-3 1-35 1-24 1 64 1-20 1 24 1-5 1 9 1-23 1-2 1-113 1 114 1 0 1-15 1-63 1 83 1-35 1-21 1-78 1 18 1 134 1-144 1-1 1 98 1 26 1 14 1-104 1 84 1-10 1 10 1-117 1 0 1 96 1-60 1 89 1 21 1-79 1 17 1-120 1 50 1 89 1-19 1 26 1-79 1 80 1-104 1 67 1 47 1-222 1 118 1 26 1 64 1-22 1-150 1 50 1 153 1-254 1 121 1-4 1 39 1 72 1-77 1 56 1-78 1 104 1-205 1 234 1-18 1-65 1-114 1 92 1 41 1 57 1-69 1-61 1 25 1-10 1 30 1-40 1 112 1-138 1 38 1 115 1-74 1 33 1-223 1 262 1-93 1 23 1 32 1 30 1-72 1-3 1 78 1 8 1-80 1-33 1 78 1-14 1 5 1-19 1-74 1 101 1-190 1 153 1 23 1-7 1-9 1 62 1-87 1 25 1-210 1 213 1 58 1-94 1-73 1 114 1 46 1-121 1 31 1 46 1-132 1-84 1 245 1 19 1-15 1 9 1-64 1-161 1 34 1-74 1 209 1 55 1-231 1 140 1-111 1 123 1-207 1 151 1 84 1-7 1-5 1 14 1-32 1-54 1 16 1 62 1 46 1-71 1 29 1-7 1-110 1 113 1 33 1-22 1-1 1-156 1 154 1 25 1-29 1 30 1-53 1-3 1 28 1-40 1-65 1 2 1 107 1 8 1 6 1-13 1 7 1 29 1-20 1-24 1 5 1 0 1 53 1-105 1 92 1-107 1-32 1 55 1 31 1 6 1-9 1-19 1 84 1-213 1 132 1 31 1-130 1 145 1-9 1 12 1-62 1 41 1-159 1 140 1-90 1 169 1-293 1 186 1-63 1 58 1 107 1-18 1-85 1 53 1-11 1 45 1-31 1 24 1-35 1-99 1 65 1 68 1-33 1-45 1 36 1-3 1 69 1-39 1 28 1 9 1-136 1 105 1-77 1-41 1 131 1-148 1 24 1 115 1 7 1 14 1-58 1 56 1 11 1-84 1 0 1-122 1 130 1 57 1-10 1 33 1-133 1-105 1 151 1 75 1-5 1-85 1 87 1-11 1-84 1 21 1 15 1-16 1 95 1-51 1-22 1 79 1-30 1-9 1-34 1 71 1-82 1 29 1-40 1 54 1 22 1 1 1-7 1 7 1-9 1 12 1-4 1 15 1 0 1 2 1-38 1 22 1 9 1-21 1-32 1-4 1-75 1 96 1 17 1 19 1-44 1 39 1 3 1 2 1-4 1-90 1 99 1-58 1-57 1 56 1 55 1-89 1 99 1-66 1 63 1-39 1-41 1 75 1-14 1-46 1-36 1 95 1-30 1-53 1 64 1 16 1-109 1 90 1-25 1 37 1 10 1-67 1 71 1-29 1-1 1 18 1 0 1-75 1 83 1-12 1-46 1 31 1-56 1 60 1-2 1-86 1 118 1-28 1-20 1 36 1-75 1 57 1-37 1 20 1-22 1 39 1 10 1 5 1-43 1-3 1 30 1-8 1 19 1 19 1-23 1-16 1 41 1-41 1-30 1 48 1 0 1-16 1-19 1 47 1-9 1 15 1-44 1 21 1 8 1-31 1 32 1 4 1-37 1 7 1 37 1-31 1 21 1-3 1-17 1 15 1-72 1 60 1-31 1 64 1-59 1 6 1 43 1-30 1 0 1 10 1-9 1 35 1-12 1 1 1 15 1-47 1-7 1-102 1 106 1-74 1-14 1-44 1 166 1-59 1-23 1 69 1 21 1-73 1 55 1-29 1-35 1-26 1 89 1-95 1 44 1-109 1 81 1 64 1-166 1 135 1 74 1-53 1-195 1 174 1-25 1 58 1-7 1 44 1-79 1 20 1 49 1-74 1 29 1 12 1-85 1-73 1-6 1 196 1-7 1-42 1 32 1-378 1 370 1-257 1 232 1 37 1-145 1 22 1 69 1 67 1-80 1-102 1 65 1 36 1 27 1-15 1 0 1 19 1 21 1-185 1 64 1 89 1 44 1-81 1 0 1-42 1 95 1 3 1 27 1-43 1-111 1 113 1 52 1 21 1-11 1-8 1-119 1 124 1-30 1-130 1 109 1-76 1 95 1 14 1 25 1 6 1-77 1 52 1-121 1 60 1-86 1 125 1-40 1 62 1-166 1 28 1 2 1 7 1 97 1 32 1-2 1-42 1-10 1-149 1 197 1-32 1 3 1-100 1-30 1 180 1-18 1-29 1 18 1-157 1 31 1-103 1 85 1 178 1-61 1 30 1-115 1 50 1 18 1 12 1-143 1 197 1-29 1-53 1 66 1 20 1-139 1 101 1 49 1-28 1-74 1 79 1-69 1 78 1-2 1 6 1-21 1-134 1 61 1 67 1 17 1-147 1 26 1 128 1-28 1-142 1 114 1 1 1 60 1-112 1 110 1-78 1-158 1 229 1-8 1-82 1-108 1 90 1 121 1 3 1-32 1-178 1 98 1 89 1-54 1 62 1-87 1-54 1-194 1 287 1 13 1 48 1-57 1-108 1 80 1 51 1 14 1-10 1 3 1-74 1-104 1 123 1 9 1 11 1-83 1 150 1-216 1 183 1-66 1 86 1-21 1 7 1-20 1-81 1 123 1-192 1 138 1-22 1 65 1-56 1 16 1 7 1 23 1-28 1-19 1 53 1-28 1-13 1 1 1 1 1-155 1-60 1 220 1-54 1-13 1-142 1 244 1-31 1-99 1 119 1-42 1 10 1-65 1-248 1 272 1 73 1-121 1 83 1 43 1-39 1-31 1-10 1 78 1-51 1 2 1 10 1-88 1 86 1-5 1 35 1 16 1-113 1 42 1 37 1-63 1 99 1 5 1-37 1-34 1-122 1 86 1 64 1-252 1 310 1-110 1 86 1-16 1 25 1 1 1 11 1-21 1-125 1 82 1-115 1 174 1-149 1 73 1-30 1 38 1-67 1 31 1-25 1 112 1-25 1 12 1 15 1-34 1 16 1 11 1 13 1 14 1-181 1 170 1-58 1-40 1 61 1 32 1-98 1 46 1 45 1 26 1-5 1-31 1-51 1 4 1 12 1-22 1 67 1-41 1 10 1-3 1-22 1 60 1-22 1-10 1 46 1-29 1-77 1 72 1-16 1 31 1 15 1-119 1 127 1-86 1 63 1-127 1 59 1 89 1-2 1 5 1-1 1-15 1-35 1-19 1 9 1 31 1 32 1-23 1 7 1-38 1 35 1-46 1 30 1-58 1 77 1 18 1-14 1-15 1-28 1 56 1-14 1-5 1 20 1-19 1 18 1-22 1 6 1 4 1-17 1 16 1-17 1 11 1-3 1 13 1-14 1 17 1-25 1 17 1-11 1 20 1-9 1-10 1 12 1-23 1 30 1-19 1 20 1-2 1-25 1 13 1 2 1 13 1-22 1 20 1 3 1-22 1-7 1 19 1 6 1-19 1 11 1-29 1 18 1-22 1 41 1 7 1-9 1-19 1-7 1 22 1 12 1-1 1-2 1-15 1 8 1 9 1-1 1-18 1 16 1 2 1-5 1-15 1 13 1 2 1-3 1-1 1 7 1-7 1 3 1-15 1-7 1 24 1 2 1 3 1-2 1-5 1-19 1 27 1-7 1 0 1-25 1 12 1 13 1-10 1-3 1 18 1-32 1 23 1 2 1 3 1 1 1 2 1 1 1 0 1-4 1 2 1 0 1 2 1-17 1 16 1-11 1-9 1 20 1-1 1 1 1-12 1 8 1 1 1 5 1-11 1 3 1 8 1-3 1-9 1 13 1-1 1-15 1 3 1 5 1 9 1-9 1-1 1-4 1 0 1-3 1 3 1 11 1 2 1-3 1 2 1-14 1 8 1-9 1 16 1-8 1-2 1-1 1-9 1-6 1 18 1 8 1-3 1 0 1 0 1 1 1-8 1 4 1-17 1 15 1-2 1 9 1-27 1 12 1 15 1-2 1-3 1 3 1-37 1 40 1-10 1 4 1 0 1 3 1 1 1-2 1 0 1 1 1 2 1-3 1-1 1-10 1-6 1 9 1-2 1 10 1-13 1 14 1 1 1-27 1-8 1 22 1 10 1-4 1-3 1 11 1-26 1 11 1 7 1 4 1-7 1 10 1-3 1-5 1 2 1 4 1-19 1 18 1 2 1-5 1 7 1-8 1 2 1-16 1 19 1-4 1 4 1-20 1 14 1 10 1 1 1-5 1 5 1-6 1-10 1 10 1-3 1 8 1 0 1-6 1-11 1 17 1-13 1-16 1 5 1 18 1-9 1 8 1 2 1 6 1-6 1-2 1-5 1 6 1 7 1-12 1-2 1 6 1-13 1 18 1-6 1-1 1 1 1-8 1 12 1-4 1 5 1 1 1-1 1-12 1 4 1 0 1 5 1 0 1 2 1-3 1-5 1 8 1 0 1-8 1 6 1-8 1 14 1 0 1-6 1-8 1 5 1 2 1 0 1 5 1-6 1-6 1-4 1 4 1 11 1-1 1-10 1 5 1 4 1-15 1 19 1-12 1 13 1 0 1-3 1-6 1 8 1-10 1 7 1 0 1-6 1 0 1 2 1 3 1 1 1-2 1 2 1 5 1-20 1 3 1 6 1 1 1 5 1-8 1 12 1-4 1-16 1 17 1 2 1-3 1 1 1 2 1-8 1 8 1-7 1 3 1 4 1-15 1 16 1-6 1-1 1 3 1-5 1 3 1 1 1-23 1 18 1-20 1 31 1-7 1 4 1 3 1-8 1 7 1-1 1-6 1-5 1 11 1 0 1-4 1 1 1-8 1 12 1-3 1 3 1-17 1 17 1-1 1 0 1-6 1 2 1-15 1 20 1-3 1-6 1-10 1 16 1-5 1 4 1-1 1 5 1-13 1 12 1-15 1-5 1 20 1-7 1 3 1 3 1 0 1 1 1-3 1 2 1 0 1-8 1 7 1-8 1 10 1 1 1-3 1-1 1 0 1 1 1-8 1-9 1 18 1-6 1 1 1 2 1 3 1-7 1 1 1 0 1-26 1 24 1 2 1 5 1-1 1-4 1-1 1-9 1 17 1-8 1 1 1-2 1 9 1-3 1-2 1 1 1-15 1 20 1-6 1 6 1-9 1 7 1-13 1 0 1 11 1-7 1-16 1 13 1 2 1 11 1 1 1-11 1-1 1 11 1-5 1 7 1-10 1 4 1-6 1 6 1-4 1 4 1-10 1 13 1-21 1 22 1-21 1 13 1 8 1-8 1 1 1 4 1-12 1 11 1-1 1 2 1-5 1-15 1 22 1-19 1 21 1-19 1 8 1 7 1-6 1 7 1 4 1-5 1-10 1 0 1 9 1-8 1 8 1 3 1-5 1 3 1-6 1 2 1 6 1-5 1-9 1-12 1 24 1-2 1 3 1-7 1-4 1 13 1-4 1 0 1-8 1 10 1 0 1 3 1-5 1-9 1 4 1 2 1 1 1 7 1-7 1 7 1-3 1-9 1-8 1 18 1-1 1-8 1 4 1 6 1-1 1-2 1 1 1-12 1 12 1-11 1 10 1-1 1 4 1-2 1-13 1-6 1 16 1 1 1 1 1-1 1-16 1 6 1 14 1-1 1 1 1-5 1 6 1-16 1 9 1 2 1 4 1-10 1-9 1 6 1 12 1 1 1-9 1-4 1 11 1 3 1-1 1-6 1 6 1 1 1-16 1 8 1-8 1-6 1 6 1 0 1 11 1 3 1-2 1-30 1 26 1-6 1 15 1-2 1-6 1 8 1-7 1-6 1-20 1 21 1 10 1 0 1-6 1 6 1-8 1 1 1 2 1 1 1 4 1 1 1-9 1 7 1-8 1 8 1 1 1-1 1-7 1 9 1-20 1 17 1-1 1-4 1 9 1-3 1-9 1-18 1 21 1 2 1 6 1-9 1 2 1 8 1-2 1-6 1-11 1 16 1-10 1 8 1 0 1 4 1-13 1 11 1-2 1-14 1 11 1 5 1-2 1 3 1 0 1-2 1-1 1-8 1 8 1 3 1-7 1 8 1-11 1 7 1 4 1-20 1 17 1-6 1-2 1 3 1-5 1 12 1-3 1 0 1-7 1-3 1 4 1 6 1-1 1-9 1 13 1-5 1 5 1-3 1-9 1 3 1-4 1 3 1 2 1 2 1 3 1-4 1 2 1-11 1 17 1 0 1-2 1-17 1 11 1-33 1 41 1-11 1 11 1-8 1-8 1 2 1 6 1 6 1-9 1-9 1 2 1 2 1 13 1-5 1 7 1-4 1-2 1 6 1-5 1 0 1 0 1-8 1 10 1-17 1 18 1-8 1-2 1 10 1-1 1-3 1-8 1 13 1-4 1-6 1 3 1 1 1 0 1-3 1 7 1-3 1-2 1 0 1 10 1-5 1-17 1 8 1 5 1 8 1-17 1 12 1-17 1 18 1-1 1-6 1-8 1 13 1 2 1-13 1 12 1 2 1-2 1 1 1-4 1-1 1-1 1-15 1 4 1 21 1-9 1-19 1 26 1-15 1-8 1 23 1-7 1 1 1 7 1 0 1 0 1-12 1-5 1 13 1 3 1-16 1 0 1 13 1-9 1 12 1-3 1 2 1 0 1-7 1 6 1 1 1-11 1 2 1 8 1 4 1-5 1-3 1 3 1-2 1 7 1-1 1-2 1 2 1-13 1 15 1-5 1 3 1-1 1-4 1 2 1 0 1-2 1 5 1-4 1-5 1 8 1-2 1-4 1-21 1 28 1-8 1 5 1 1 1-9 1 3 1 5 1-4 1-8 1 3 1 1 1 11 1-2 1 4 1-1 1-9 1 2 1 4 1-6 1 5 1 0 1-5 1 6 1-2 1-12 1 10 1-5 1 6 1 0 1-7 1 5 1-8 1 8 1 2 1 0 1 5 1-1 1 0 1 3 1-10 1 6 1-2 1 4 1-2 1 1 1 0 1 1 1-5 1-5 1-3 1 0 1 4 1 9 1-1 1 0 1 2 1-2 1 1 1-14 1 8 1 6 1-4 1-4 1-8 1 5 1 4 1-1 1 8 1-3 1 4 1-3 1-7 1 8 1-36 1 31 1 2 1 4 1-5 1-4 1 8 1-10 1-8 1 20 1-3 1 3 1-11 1-8 1 18 1-13 1-5 1 14 1 4 1-8 1-2 1 12 1-12 1 9 1-19 1 22 1-3 1-5 1 7 1-11 1-2 1 1 1 12 1-25 1 22 1-1 1-5 1 3 1 1 1 3 1-3 1 0 1 2 1-1 1 1 1-3 1-3 1 9 1-6 1-15 1 19 1-5 1 7 1-11 1 0 1 10 1 1 1-2 1 1 1-2 1 2 1-5 1-5 1 10 1-12 1-2 1 3 1 12 1-2 1-6 1 0 1 3 1-5 1 2 1-1 1 3 1-1 1 6 1-3 1-6 1 5 1 2 1 0 1 2 1-3 1 0 1-3 1 8 1-3 1-2 1 2 1-1 1-11 1 1 1 13 1-15 1 9 1-2 1-10 1 1 1 14 1 3 1-4 1 4 1-9 1 5 1 3 1-13 1 13 1 1 1-2 1-4 1-3 1 7 1 1 1-10 1 2 1 4 1 4 1-10 1 9 1-4 1 7 1-4 1-4 1 7 1-20 1 19 1-2 1-2" fill="none" stroke="#0072bd" stroke-width="0.6" vector-effect="non-scaling-stroke" stroke-linejoin="round"/><path d="M351.55 91.10V50.31M353.29 91.10V66.27M354.08 91.10V69.90M355.60 91.10V24.03M357.88 91.10V74.82M359.78 91.10V72.03M360.10 91.10V75.12M362.00 91.10V42.24M363.90 91.10V67.90M365.48 91.10V70.46M367.38 91.10V67.14M369.60 91.10V70.35M370.54 91.10V65.83M373.39 91.10V61.11M374.34 91.10V73.76M377.83 91.10V82.59M380.68 91.10V77.82M384.16 91.10V76.34M386.06 91.10V74.65M395.24 91.10V62.05M414.87 91.10V86.89M429.43 91.10V75.16M431.33 91.10V79.79M432.60 91.10V76.62M434.49 91.10V81.39M437.34 91.10V75.50M439.24 91.10V82.03M442.09 91.10V81.04M456.02 91.10V81.20M458.24 91.10V83.57M460.77 91.10V80.68M462.35 91.10V81.33M464.57 91.10V83.76M467.10 91.10V81.20M356.40 91.10V73.78M354.00 91.10V78.16M375.29 91.10V80.09M351.46 91.10V73.67M367.51 91.10V71.59M359.00 91.10V81.56M365.39 91.10V79.86M371.20 91.10V78.56M359.68 91.10V80.65M372.03 91.10V78.17M365.25 91.10V81.94M370.19 91.10V80.61M353.82 91.10V73.50M374.86 91.10V83.33M369.52 91.10V74.55M354.07 91.10V80.10M358.09 91.10V74.15M372.24 91.10V84.01M360.75 91.10V72.82M373.40 91.10V79.27M357.61 91.10V72.96M368.29 91.10V76.12M364.94 91.10V75.79M370.67 91.10V78.94M353.57 91.10V74.43M368.16 91.10V77.65M358.54 91.10V74.76M371.59 91.10V83.53M357.23 91.10V75.35M367.68 91.10V74.17M379.16 91.10V82.45M379.53 91.10V84.97M387.35 91.10V80.39M379.86 91.10V79.18M382.05 91.10V83.70M391.63 91.10V82.11" stroke="#0072bd" stroke-width="0.5" fill="none" opacity="0.8"/><text x="432.90" y="10.65" text-anchor="middle" class="l" style="font-size:4.5px">Spectrum of denoised signal after SR</text><text x="440.70" y="106.60" text-anchor="middle" class="l" style="font-size:4.55px">frequency f/Hz</text><text transform="translate(330.65 59.80) rotate(-90)" text-anchor="middle" class="l" style="font-size:4.7px">Spectrum amplitude</text><rect x="356.70" y="24.53" width="39" height="22.9" rx="0.8" fill="#f9f9fd" stroke="#a6a6a6" stroke-width="0.65"/><circle cx="355.60" cy="24.03" r="1.15" fill="#111"/><text x="359.40" y="32.13" class="dl">X</text><text x="365.10" y="32.13" class="dv">158</text><text x="359.40" y="40.83" class="dl">Y</text><text x="365.10" y="40.83" class="dv">0.0176158</text><text x="441.20" y="130.00" text-anchor="middle" class="s">(<tspan font-weight="bold" font-size="11">b</tspan>)</text><circle cx="319.20" cy="108.60" r="0.6" fill="#777"/></g>
<g><rect x="35.55" y="149.70" width="189.95" height="76.30" fill="none" stroke="#262626" stroke-width="0.45"/><path d="M35.55 226.00v-2.2M35.55 149.70v2.2" stroke="#262626" stroke-width="0.45"/><text x="34.65" y="231.95" text-anchor="middle" class="t">0</text><path d="M67.21 226.00v-2.2M67.21 149.70v2.2" stroke="#262626" stroke-width="0.45"/><text x="66.31" y="231.95" text-anchor="middle" class="t">1000</text><path d="M98.87 226.00v-2.2M98.87 149.70v2.2" stroke="#262626" stroke-width="0.45"/><text x="97.97" y="231.95" text-anchor="middle" class="t">2000</text><path d="M130.52 226.00v-2.2M130.52 149.70v2.2" stroke="#262626" stroke-width="0.45"/><text x="129.62" y="231.95" text-anchor="middle" class="t">3000</text><path d="M162.18 226.00v-2.2M162.18 149.70v2.2" stroke="#262626" stroke-width="0.45"/><text x="161.28" y="231.95" text-anchor="middle" class="t">4000</text><path d="M193.84 226.00v-2.2M193.84 149.70v2.2" stroke="#262626" stroke-width="0.45"/><text x="192.94" y="231.95" text-anchor="middle" class="t">5000</text><path d="M225.50 226.00v-2.2M225.50 149.70v2.2" stroke="#262626" stroke-width="0.45"/><text x="224.60" y="231.95" text-anchor="middle" class="t">6000</text><path d="M35.55 226.00h2M225.50 226.00h-2" stroke="#262626" stroke-width="0.45"/><text x="31.45" y="225.70" text-anchor="end" class="t">0</text><path d="M35.55 201.85h2M225.50 201.85h-2" stroke="#262626" stroke-width="0.45"/><text x="29.75" y="201.55" text-anchor="end" class="t">0.005</text><path d="M35.55 177.71h2M225.50 177.71h-2" stroke="#262626" stroke-width="0.45"/><text x="29.75" y="177.41" text-anchor="end" class="t">0.01</text><path d="M35.55 153.56h2M225.50 153.56h-2" stroke="#262626" stroke-width="0.45"/><text x="29.75" y="153.26" text-anchor="end" class="t">0.015</text><path transform="translate(35.55 226.00) scale(0.06667 0.03423)" d="M0-470l1-168 1 557 1 15 1-644 1 590 1-392 1 400 1-59 1-683 1 281 1 540 1-199 1 115 1-36 1 127 1-21 1-92 1 12 1 105 1-126 1-101 1 83 1-80 1 230 1-23 1-347 1 267 1 0 1 14 1 18 1-197 1-102 1 300 1 52 1-23 1-463 1 142 1 175 1-17 1-76 1 114 1 139 1-80 1 105 1 1 1-180 1 113 1 59 1-170 1 12 1 86 1 31 1-46 1 92 1-46 1-189 1-233 1 438 1 11 1-204 1 167 1-66 1 18 1-150 1 170 1-159 1 136 1-146 1 231 1-28 1-30 1-60 1 49 1 96 1-182 1 41 1 109 1-76 1-39 1 24 1 74 1 13 1-23 1-56 1 82 1-12 1 3 1-37 1-15 1 39 1 37 1-22 1-6 1-40 1-15 1 16 1-87 1 126 1-115 1 136 1 30 1 1 1-250 1 189 1 19 1 12 1-133 1 106 1-149 1 97 1 28 1-56 1 86 1 34 1-27 1-147 1 134 1 3 1-47 1 28 1-133 1 201 1-53 1-92 1 152 1-25 1-32 1-54 1-2 1 33 1-49 1 84 1-39 1-2 1 41 1-109 1 58 1 82 1-28 1-28 1 59 1-194 1 74 1 116 1-46 1-13 1 49 1-187 1 177 1-48 1 59 1-7 1-69 1 92 1 13 1-37 1 9 1-65 1 62 1-344 1 323 1-46 1 13 1-32 1-190 1 44 1 210 1 7 1 38 1-50 1-22 1-23 1 79 1-136 1-35 1 82 1 67 1-47 1-385 1 304 1-68 1 218 1-14 1 18 1-114 1 76 1 36 1-16 1-110 1 32 1-127 1 211 1-31 1-1 1-52 1 7 1 40 1-64 1 92 1-198 1 231 1 4 1-58 1-229 1 176 1-184 1 133 1 139 1-65 1-28 1 52 1 57 1-98 1 88 1-44 1 57 1 4 1-52 1 53 1-223 1 209 1-125 1 43 1-69 1-65 1 7 1 98 1-172 1 207 1 73 1-178 1 148 1-123 1 73 1-24 1 68 1-57 1-26 1 73 1 15 1 25 1-154 1 84 1 22 1 15 1 41 1-322 1 314 1 15 1-48 1 44 1-335 1 324 1-32 1 29 1-2 1-59 1-408 1 497 1-35 1-54 1-81 1 74 1-136 1 141 1 7 1-17 1 102 1-291 1 207 1 82 1-62 1-61 1 74 1-15 1 13 1-97 1 126 1 10 1-24 1-29 1-64 1 66 1 5 1-16 1-66 1 113 1-27 1 54 1-102 1 88 1-126 1 106 1-83 1 118 1-69 1-39 1-57 1 124 1 37 1-58 1-8 1 44 1-19 1-57 1 44 1-32 1 74 1-61 1-10 1 53 1-23 1-49 1 5 1 38 1 24 1 5 1 24 1-32 1 31 1-102 1 48 1-37 1 85 1-43 1-25 1 36 1-23 1-183 1 208 1-79 1 94 1 26 1-17 1-34 1 28 1-289 1 279 1 21 1-81 1 36 1-165 1 135 1 44 1 38 1-70 1 74 1 7 1-87 1 38 1 6 1 25 1-23 1-142 1 167 1-51 1-62 1 58 1 31 1-11 1-7 1-9 1 14 1-152 1 169 1-66 1 48 1 23 1-36 1 46 1 20 1-56 1-24 1 78 1-23 1-78 1-19 1 93 1 32 1-20 1 11 1-14 1 17 1-28 1 16 1-84 1 72 1-84 1-26 1 111 1-1 1-2 1 20 1-2 1-9 1-8 1-19 1 35 1 5 1-41 1 23 1-90 1 48 1 36 1-59 1 35 1 28 1-90 1 67 1 42 1-75 1 36 1-41 1 85 1-108 1-7 1 93 1-15 1-3 1 36 1-63 1-24 1 35 1 46 1-15 1-19 1 5 1 24 1-11 1-54 1 52 1-19 1 41 1-35 1 34 1-39 1 0 1 18 1 11 1-57 1 27 1-26 1 31 1-21 1 24 1 21 1 13 1-32 1 42 1-18 1-43 1 42 1-58 1 47 1-16 1 12 1-15 1 42 1-64 1 28 1 0 1-52 1 55 1 2 1-61 1 20 1-62 1-22 1 104 1-20 1-71 1 139 1-47 1-45 1 80 1-48 1 52 1 6 1-42 1-1 1 8 1-29 1 12 1 50 1 3 1-91 1 73 1 29 1-6 1-21 1-9 1-111 1 81 1 45 1-47 1-30 1 64 1-39 1 26 1 12 1-158 1 168 1 9 1-7 1-72 1 94 1-30 1 20 1 3 1-52 1 42 1-4 1-95 1 110 1-4 1 10 1-99 1 51 1 25 1 16 1-17 1 19 1-19 1-28 1 35 1-188 1 171 1 14 1 2 1-16 1-18 1 50 1-4 1-102 1 30 1 36 1-39 1 17 1 59 1-85 1 36 1-51 1 31 1-64 1 40 1 38 1 42 1 20 1-53 1 31 1-39 1 9 1 0 1-40 1 83 1-5 1-23 1-6 1-52 1 41 1 28 1-59 1-69 1 109 1 20 1 17 1-25 1-9 1 24 1 2 1-13 1-84 1 74 1 24 1-62 1 60 1-14 1-80 1 99 1-61 1 57 1 11 1-17 1-4 1 13 1-24 1 8 1-4 1 1 1 0 1 17 1 2 1 1 1-5 1-15 1 15 1 2 1 9 1-21 1 25 1-16 1-25 1 32 1-2 1 0 1-15 1-8 1 21 1-68 1 82 1-46 1-35 1 50 1-12 1 41 1-2 1-77 1 56 1-3 1 28 1-51 1 49 1-130 1 109 1-27 1 49 1-69 1 39 1 10 1 1 1 16 1-53 1 47 1-35 1 43 1-2 1-31 1-15 1 4 1 23 1 6 1-20 1 3 1 5 1 9 1 15 1-4 1-24 1-4 1 16 1 22 1-17 1-3 1 22 1-3 1-11 1-26 1 9 1 7 1 14 1 4 1-51 1 25 1-39 1 63 1-4 1-19 1 17 1 3 1 3 1-1 1 0 1-7 1-6 1-37 1 38 1-25 1 32 1 12 1-16 1-13 1 27 1-8 1-8 1 18 1-13 1-6 1 15 1-30 1 34 1-6 1-26 1 33 1-27 1-36 1 64 1-4 1-4 1-40 1 47 1 0 1-59 1 37 1 3 1-10 1 25 1 2 1-9 1-8 1-34 1 46 1-11 1 15 1-34 1 8 1-32 1 55 1-40 1 40 1-30 1 22 1-5 1-3 1 14 1 3 1-28 1 7 1 1 1-36 1 50 1 7 1-7 1-2 1 8 1 1 1 0 1-6 1 2 1-8 1 7 1 10 1-12 1-3 1 0 1 8 1-14 1 0 1 21 1-32 1 11 1-3 1 18 1-27 1 33 1-29 1 27 1-14 1 7 1 2 1-7 1-19 1 33 1-31 1 13 1 5 1-28 1 26 1 7 1-8 1-5 1 17 1-34 1 37 1-32 1 22 1-18 1 2 1 14 1-1 1-11 1 19 1-12 1-9 1-10 1 23 1-23 1 24 1 6 1 2 1-9 1-14 1 23 1 2 1-5 1-25 1-35 1 48 1-23 1 37 1-20 1 22 1 2 1-8 1-9 1 10 1-23 1 23 1 4 1-17 1-34 1 38 1 4 1 0 1-10 1-26 1 40 1-17 1-36 1 2 1 20 1 32 1-20 1 18 1-29 1 38 1-50 1 26 1 25 1-33 1 13 1-9 1 18 1-2 1-21 1 29 1-43 1 26 1 13 1-22 1 24 1-15 1 8 1-1 1 12 1-16 1-2 1 20 1-9 1 1 1-7 1-5 1 12 1-8 1 4 1-3 1 5 1-12 1 18 1-3 1-15 1-1 1 14 1 9 1-33 1 28 1-13 1-29 1 40 1-7 1-1 1-17 1 30 1-31 1 27 1 6 1-5 1-18 1 24 1-6 1-2 1-4 1 3 1-14 1-5 1 21 1-19 1 13 1-7 1-4 1-18 1 34 1 3 1-9 1-7 1-10 1 23 1-15 1 24 1-25 1-30 1 26 1 15 1-39 1 35 1-19 1-2 1 22 1 4 1-2 1-13 1 12 1-6 1 21 1-14 1 8 1 0 1-31 1 25 1 10 1-3 1-3 1-16 1-41 1 55 1-2 1-23 1 32 1-15 1-7 1 20 1-6 1 5 1 4 1-13 1 9 1 3 1-18 1-7 1 5 1-31 1 54 1-35 1 29 1 2 1 3 1-2 1-18 1-8 1 17 1 7 1-3 1 1 1-29 1 31 1 6 1-22 1 0 1-18 1 36 1-2 1-4 1-24 1-19 1 31 1-2 1 8 1-48 1 36 1 15 1-23 1 20 1 1 1 4 1 0 1 3 1-3 1 4 1-13 1-27 1 28 1-41 1 49 1 1 1-24 1 16 1 4 1-7 1 19 1-3 1-4 1-20 1-12 1-32 1 55 1 15 1-11 1 1 1 11 1-59 1 48 1-11 1 11 1-56 1 25 1 27 1 6 1 2 1 2 1-1 1-6 1 6 1-12 1 12 1-10 1 8 1-29 1 35 1-1 1-12 1-10 1 20 1-4 1 3 1-7 1 2 1 3 1-1 1-2 1 5 1-44 1 36 1-4 1-23 1 30 1 8 1 4 1-23 1 9 1 6 1 1 1-4 1-15 1-25 1 42 1-28 1 22 1-13 1-30 1 55 1-16 1 1 1-3 1-8 1 21 1 0 1-13 1 7 1 14 1-30 1 13 1-11 1-1 1 17 1-2 1 8 1-4 1-3 1-10 1 15 1-6 1-7 1 1 1-7 1-2 1 20 1 10 1-48 1 45 1-46 1 36 1 13 1-18 1 16 1-16 1-8 1 17 1 5 1-13 1-9 1 16 1-6 1 0 1 2 1 11 1-25 1 22 1 5 1-22 1 15 1-55 1 41 1-2 1 21 1-52 1 35 1 8 1-2 1 10 1 3 1-16 1-48 1 39 1-16 1 34 1-16 1 7 1-8 1 14 1-5 1 0 1 7 1-4 1-5 1 5 1 2 1-11 1-2 1 22 1-27 1 14 1-50 1 47 1-59 1 75 1-45 1 45 1-37 1 12 1-31 1-4 1-88 1 112 1-29 1-63 1 121 1-23 1-42 1-19 1 73 1-65 1 44 1-93 1 46 1 68 1-41 1 24 1-18 1-42 1 27 1-95 1 151 1-13 1-46 1 25 1-134 1 89 1 80 1-66 1 5 1 60 1-10 1-151 1 61 1 43 1 0 1 38 1 24 1-29 1 20 1-62 1 71 1-73 1 5 1 39 1 13 1-11 1-288 1 305 1-134 1 143 1-156 1-3 1-98 1 217 1-23 1 40 1-21 1 28 1-164 1 91 1-106 1 68 1 57 1-67 1 115 1-113 1 130 1-50 1-90 1 72 1 74 1-37 1 13 1-12 1-143 1 64 1 30 1 66 1-27 1 30 1-32 1 18 1-10 1 29 1-405 1 381 1-136 1 50 1 74 1 53 1-97 1 65 1-151 1 168 1 13 1-69 1 17 1 9 1-6 1 20 1-91 1-97 1 19 1 41 1 126 1-31 1-171 1 102 1 116 1-8 1-17 1 16 1-5 1 8 1-112 1 135 1-17 1-38 1-122 1 112 1 28 1 20 1 19 1-271 1 193 1 77 1-100 1-60 1 16 1 18 1 57 1-195 1 172 1 75 1-32 1-74 1-41 1-12 1 70 1 56 1-37 1-40 1-56 1 61 1-143 1 189 1-73 1 52 1-45 1 86 1-79 1 65 1-26 1 52 1 22 1-76 1 62 1-80 1 61 1 0 1-112 1 35 1 28 1-47 1 142 1-24 1 11 1-56 1 71 1-23 1-77 1 33 1 20 1-29 1-29 1 79 1-155 1 147 1 7 1 29 1-242 1 227 1-74 1-191 1 186 1 99 1-56 1 29 1-86 1 61 1-119 1 10 1 100 1 17 1 13 1-46 1 55 1-117 1 50 1 28 1 50 1 9 1-34 1-100 1 95 1 14 1-117 1 137 1 5 1-135 1 103 1-81 1 95 1 3 1-36 1 10 1-206 1 100 1 115 1 3 1-25 1-89 1 126 1-52 1-8 1-9 1 86 1-50 1 37 1 2 1 8 1-48 1 2 1 52 1-39 1-17 1 18 1-35 1-20 1 89 1-72 1 29 1-5 1 28 1-63 1 64 1-16 1 16 1 7 1-129 1 115 1-61 1 66 1-22 1 26 1-47 1-89 1 115 1-47 1 61 1-21 1 46 1-70 1 69 1-23 1-11 1-5 1 22 1 5 1 13 1 0 1-15 1 5 1 1 1 1 1-41 1 53 1-21 1 9 1-6 1-5 1-57 1 78 1-30 1 2 1 0 1-11 1 10 1 12 1-1 1-6 1 12 1-29 1 20 1 6 1-33 1 22 1-15 1 15 1-38 1 53 1-27 1 15 1-36 1 50 1-9 1 13 1-30 1 24 1-25 1-19 1 32 1-21 1 39 1-24 1 19 1 7 1-23 1 21 1-67 1 65 1-6 1-18 1 14 1-52 1 65 1-41 1 40 1 5 1-27 1 8 1-32 1-5 1 3 1 5 1 33 1-51 1 63 1-19 1-23 1 2 1 22 1 10 1 6 1-31 1-2 1 34 1-16 1 21 1-41 1-22 1 2 1 60 1-20 1 12 1-8 1 7 1 4 1-63 1 62 1-61 1-64 1 104 1-5 1-77 1 35 1-78 1 146 1-21 1-77 1 92 1-93 1 54 1 50 1-6 1-25 1 7 1-87 1 4 1 39 1 15 1 28 1-69 1 82 1-37 1 39 1-23 1 25 1 8 1-69 1 48 1-23 1-62 1-16 1-11 1 62 1-16 1 2 1-32 1-103 1 140 1 62 1-55 1 1 1 11 1-23 1 43 1-104 1 84 1-87 1-58 1 113 1 37 1-43 1-39 1 126 1-196 1 180 1-87 1-48 1-155 1 298 1-156 1 177 1-34 1-103 1 105 1-66 1-24 1-19 1 51 1 76 1-50 1 7 1-7 1 26 1-25 1-115 1 122 1 16 1-42 1-123 1 134 1-96 1 167 1 0 1-11 1-57 1 13 1-55 1 61 1-5 1-18 1 59 1-108 1 9 1 53 1 22 1-21 1-104 1 144 1-106 1 3 1-140 1 227 1-89 1-41 1 146 1 12 1-128 1 129 1-149 1 74 1 1 1 30 1-78 1 122 1-123 1 115 1-44 1-103 1 144 1-48 1-129 1 136 1-124 1 91 1 90 1-156 1 102 1-98 1 119 1-151 1-80 1 95 1 24 1 123 1-13 1 34 1-32 1-27 1 31 1-173 1 195 1-44 1-36 1 21 1 33 1-93 1 84 1 40 1-50 1-100 1 63 1 78 1-186 1 152 1-72 1-40 1 125 1-40 1 28 1-137 1 95 1-5 1 21 1 18 1-44 1-110 1 202 1-29 1 15 1-15 1-184 1 72 1 22 1-6 1 100 1-10 1 12 1-135 1 31 1 78 1 18 1-252 1 175 1 91 1-94 1 28 1 22 1 36 1 21 1-192 1 3 1 109 1 47 1-5 1-38 1 65 1-4 1 7 1-83 1 88 1-118 1-28 1 64 1 42 1-54 1 105 1-183 1 96 1 1 1 38 1-16 1-15 1 75 1-232 1 47 1 157 1-50 1-37 1 75 1-189 1 152 1 53 1-38 1 32 1 22 1-26 1 30 1-95 1 73 1-44 1 60 1-17 1 29 1-14 1-203 1 171 1-141 1 169 1-57 1 33 1-45 1-49 1 63 1-1 1-69 1 106 1-102 1 90 1-80 1 92 1-40 1 59 1-17 1 15 1-64 1 65 1-51 1-16 1 80 1-55 1 23 1-11 1 32 1-62 1-15 1-40 1 108 1-5 1-71 1 89 1-10 1-5 1 7 1-7 1-20 1 33 1-50 1-12 1 13 1-336 1 381 1-87 1 25 1-43 1-33 1 86 1-37 1 83 1-16 1 37 1-137 1 135 1-106 1 47 1-126 1 148 1-46 1-54 1 71 1 36 1 23 1-4 1 8 1 2 1-52 1-55 1-12 1 95 1-51 1-2 1 77 1-14 1-10 1-37 1-68 1 131 1-109 1 57 1 40 1-130 1 91 1 38 1-36 1-47 1 27 1 5 1 69 1-10 1-15 1-25 1 46 1-92 1 1 1 64 1-69 1-47 1 108 1 36 1-97 1-67 1 127 1 42 1-85 1 77 1-17 1 11 1-75 1 22 1 50 1 14 1-1 1-59 1 25 1-21 1 14 1 44 1-13 1 2 1-93 1 84 1 10 1-86 1 55 1 23 1-6 1 7 1-75 1 62 1 26 1-42 1 34 1 5 1-29 1 0 1 13 1-22 1 42 1-26 1 12 1-11 1 19 1 7 1-60 1 50 1-3 1 12 1-9 1-26 1-12 1 24 1 24 1-18 1 10 1-34 1 2 1 1 1 37 1-11 1 13 1-24 1 17 1 10 1-12 1 9 1-9 1-18 1 5 1-13 1 38 1-12 1 1 1 10 1-28 1 12 1-8 1 13 1-2 1 1 1 0 1 3 1 5 1 2 1-10 1 10 1-3 1-23 1 22 1-17 1 18 1-4 1 11 1-3 1-5 1 6 1-7 1-7 1 12 1-8 1 13 1-7 1 2 1-2 1 7 1-1 1-2 1-9 1 1 1 2 1 5 1-8 1-2 1 11 1-3 1-13 1-1 1 13 1-1 1 1 1 1 1-10 1-3 1 16 1-50 1 38 1 0 1 13 1-27 1 17 1 4 1-1 1 1 1-1 1 4 1 2 1-2 1 3 1-7 1-1 1-18 1 6 1 5 1 13 1-4 1 6 1-1 1-6 1-4 1 6 1 6 1 1 1-9 1-12 1 15 1 1 1 5 1-8 1-6 1-3 1 9 1 5 1-6 1-5 1 13 1-8 1 4 1 3 1-14 1 8 1-2 1 5 1-2 1 6 1 0 1-1 1-5 1-12 1 7 1 10 1 1 1-5 1-3 1-7 1 15 1-9 1 6 1-2 1 6 1-1 1-6 1 1 1 5 1-7 1 5 1-1 1-11 1-3 1 15 1-8 1 8 1-1 1-1 1 1 1-1 1 0 1-2 1 6 1-19 1 12 1 6 1-2 1-6 1 3 1 7 1-2 1-2 1-2 1 0 1 5 1-4 1-18 1 16 1 6 1-9 1 10 1-7 1-1 1 5 1-15 1 13 1-3 1 5 1-3 1 1 1 0 1-5 1 7 1-6 1-13 1-5 1 22 1-10 1 11 1-1 1 0 1-4 1 0 1 0 1-1 1 5 1-7 1-5 1 9 1-14 1 14 1-16 1 2 1 16 1-7 1 8 1 2 1 0 1 0 1-23 1 22 1-8 1-3 1 10 1 0 1 4 1-8 1 5 1 0 1 2 1-12 1 9 1-3 1 4 1-2 1 2 1-10 1 13 1 0 1-27 1 26 1-3 1 0 1-3 1 0 1 3 1-4 1-3 1 3 1-4 1 10 1-13 1 5 1-1 1-5 1-1 1 8 1 5 1 3 1-9 1-3 1-1 1 11 1-4 1 5 1-19 1 16 1-4 1-4 1-5 1 15 1 0 1-3 1-4 1 8 1-5 1 6 1-7 1 9 1-7 1 1 1 3 1-2 1 3 1-1 1-2 1-4 1 2 1 4 1-4 1 2 1-3 1 1 1-3 1 6 1-5 1 0 1-5 1 8 1-1 1 1 1 4 1-9 1 0 1 11 1-3 1-4 1 2 1 0 1 2 1-12 1 11 1-5 1 7 1-5 1 4 1 2 1-8 1 5 1 0 1 2 1-3 1-12 1 5 1 3 1 8 1-27 1 17 1 11 1-8 1-7 1 4 1-8 1 16 1 1 1-8 1 0 1 0 1-6 1 11 1-1 1-6 1-5 1 12 1-28 1 28 1 1 1-2 1 3 1-1 1-6 1 5 1-8 1 5 1-10 1 15 1-13 1 11 1-25 1 28 1-5 1-2 1-1 1 1 1 4 1 4 1-6 1-2 1 7 1-1 1 0 1-4 1-1 1 7 1-4 1-22 1 11 1 8 1-2 1 4 1 4 1-6 1 4 1-12 1 7 1 7 1 0 1-4 1 6 1-4 1 2 1-3 1 1 1-11 1 1 1 12 1-11 1 12 1-3 1-10 1 7 1-18 1 20 1-4 1-10 1 10 1-6 1 11 1 3 1-12 1-4 1 15 1-2 1-6 1-4 1 11 1 1 1-18 1 15 1 2 1-24 1 13 1 3 1 6 1-16 1 21 1-8 1 5 1-4 1 6 1-15 1 6 1-19 1 21 1 5 1 1 1-2 1 0 1 2 1-19 1 12 1 7 1-1 1-1 1-11 1 10 1-1 1 6 1-21 1 14 1-9 1 4 1 6 1-1 1-4 1 5 1 2 1 1 1 0 1-1 1-33 1 35 1 1 1 0 1 0 1-8 1 5 1-16 1 9 1-10 1 16 1-7 1 6 1-6 1 8 1-7 1 8 1-3 1-2 1 6 1-4 1-11 1 14 1-3 1-17 1 10 1 7 1 4 1-3 1-7 1 9 1 0 1-9 1 12 1-4 1-18 1 11 1 5 1-15 1 17 1 4 1-10 1 1 1 0 1 0 1 7 1-2 1-4 1-13 1 12 1 7 1-8 1 7 1-4 1 4 1-6 1-3 1 8 1-7 1 5 1-5 1 2 1 3 1-14 1 13 1-1 1-17 1 19 1-1 1-5 1 3 1-17 1 19 1 3 1 1 1 0 1-8 1 10 1-24 1 25 1-3 1 1 1-4 1 1 1 1 1 3 1-1 1-9 1-9 1 11 1 9 1-8 1 5 1-21 1 12 1 10 1-2 1-5 1 3 1 0 1 4 1-9 1 7 1-12 1-1 1 14 1-4 1 3 1-14 1 15 1 0 1 1 1-5 1-8 1 12 1-5 1 7 1-3 1 2 1-7 1 7 1-14 1 9 1 2 1 1 1-2 1 4 1-4 1 4 1-1 1-1 1-8 1 9 1 1 1-9 1 7 1-2 1 0 1 2 1-8 1 11 1-2 1 0 1-10 1 7 1 1 1-14 1-6 1 24 1-8 1 0 1-13 1 18 1 1 1 1 1-5 1 2 1-28 1 32 1-4 1-2 1 4 1 0 1-10 1-13 1 21 1-12 1 13 1-11 1 5 1 9 1-2 1-1 1-1 1-5 1-3 1 8 1-8 1 10 1-1 1-9 1 2 1 4 1 5 1-2 1 4 1-6 1-6 1 2 1 8 1-6 1 7 1-4 1 5 1-10 1 5 1-5 1 5 1-5 1 1 1 4 1 3 1-12 1 9 1-1 1 2 1-10 1 2 1 0 1-4 1 6 1 3 1-1 1-5 1 6 1 0 1-5 1-8 1 7 1 13 1-4 1-10 1 12 1-4 1 2 1-1 1-8 1-1 1-2 1-1 1 12 1-22 1 26 1-5 1-1 1 6 1-7 1-3 1-6 1 3 1-2 1 7 1 5 1-4 1-2 1-8 1 9 1 6 1-7 1 3 1 4 1-2 1-1 1-3 1 5 1 3 1-12 1 6 1 2 1-10 1 11 1-6 1-1 1 2 1 6 1 0 1-6 1 6 1-5 1 0 1-4 1 9 1 2 1-3 1-6 1 3 1 6 1-5 1 3 1-14 1 9 1 6 1 1 1-2 1 1 1 0 1-2 1-1 1-4 1-5 1-6 1 13 1 1 1-5 1 5 1-8 1 7 1 0 1 7 1-11 1 10 1-4 1-10 1 10 1 2 1 1 1-6 1 0 1 5 1-8 1 9 1 0 1-16 1 17 1-7 1 6 1-13 1 14 1-1 1-2 1 0 1 3 1-4 1-3 1 7 1-6 1-1 1-4 1 5 1-7 1-13 1 26 1-1 1-2 1-1 1-4 1-2 1 3 1-6 1 6 1-11 1 17 1-7 1 2 1 3 1 1 1 0 1-10 1 12 1-4 1 3 1-4 1-22 1 15 1 10 1-11 1-3 1 11 1-4 1-3 1 8 1 2 1-9 1 2 1-3 1 1 1 3 1 4 1 4 1-9 1-21 1 20 1 6 1 1 1 1 1-7 1 8 1-8 1 8 1-11 1 10 1-4 1 6 1-14 1 3 1 0 1 10 1-9 1 4 1 6 1-20 1 12 1 2 1 4 1 2 1-3 1-6 1 5 1-3 1 3 1-13 1 15 1 2 1-7 1-3 1 1 1 5 1-10 1 6 1-1 1 1 1-1 1-22 1 27 1 5 1-3 1-3 1-6 1 8 1-11 1-3 1 12 1-12 1 8 1 2 1 7 1-15 1 6 1-1 1 10 1-1 1-1 1-12 1 14 1-2 1-12 1 14 1-6 1-1 1 7 1-1 1-11 1 11 1-1 1 1 1-5 1-12 1 16 1-6 1 0 1 0 1-6 1 7 1 3 1-2 1-11 1 11 1 6 1-15 1 11 1-23 1 23 1-4 1-14 1 12 1 7 1 2 1 0 1 2 1 0 1-10 1-1 1 5 1 1 1 1 1 3 1-6 1 2 1 4 1-22 1 20 1-2 1 0 1 2 1 0 1-14 1 3 1 10 1-11 1 14 1-4 1-10 1 11 1-8 1 5 1 1 1 4 1-9 1 8 1-1 1-2 1-4 1 0" fill="none" stroke="#0072bd" stroke-width="0.6" vector-effect="non-scaling-stroke" stroke-linejoin="round"/><path d="M36.50 226.00V185.99M38.24 226.00V201.10M39.03 226.00V203.94M40.55 226.00V157.54M42.83 226.00V208.66M44.73 226.00V208.56M45.05 226.00V209.34M46.95 226.00V178.94M48.85 226.00V201.25M50.43 226.00V206.47M52.33 226.00V201.46M54.55 226.00V206.10M55.49 226.00V201.15M58.34 226.00V197.33M59.29 226.00V207.88M62.78 226.00V216.24M65.63 226.00V212.13M69.11 226.00V208.94M71.01 226.00V208.96M80.19 226.00V194.17M99.82 226.00V222.11M114.38 226.00V210.28M116.28 226.00V213.97M117.55 226.00V212.04M119.44 226.00V214.44M122.29 226.00V209.25M124.19 226.00V215.71M127.04 226.00V215.10M140.97 226.00V216.57M143.19 226.00V218.93M145.72 226.00V215.48M147.30 226.00V215.70M149.52 226.00V218.07M152.05 226.00V216.52M60.71 226.00V217.08M55.14 226.00V219.50M40.83 226.00V205.84M36.34 226.00V209.10M50.37 226.00V213.55M42.69 226.00V212.27M48.20 226.00V214.98M39.93 226.00V211.87M40.09 226.00V214.60M40.46 226.00V205.43M50.08 226.00V210.15M37.62 226.00V212.33M53.86 226.00V211.13M51.62 226.00V216.35M53.52 226.00V207.96M54.61 226.00V212.26M46.43 226.00V207.50M54.94 226.00V216.44M46.71 226.00V208.34M37.42 226.00V212.91M40.96 226.00V215.25M39.39 226.00V208.67M45.72 226.00V207.58M42.74 226.00V207.64M60.35 226.00V213.47M49.70 226.00V214.49M36.51 226.00V213.08M58.17 226.00V213.76M41.35 226.00V214.03M40.95 226.00V206.59M63.99 226.00V218.20M69.09 226.00V217.84M71.56 226.00V217.84M74.18 226.00V217.71M69.44 226.00V215.67M61.30 226.00V214.18" stroke="#0072bd" stroke-width="0.5" fill="none" opacity="0.8"/><text x="117.85" y="145.40" text-anchor="middle" class="l" style="font-size:4.5px">Spectrum of denoised signal after SR</text><text x="125.65" y="241.50" text-anchor="middle" class="l" style="font-size:4.55px">frequency f/Hz</text><text transform="translate(15.60 194.55) rotate(-90)" text-anchor="middle" class="l" style="font-size:4.7px">Spectrum amplitude</text><rect x="41.65" y="158.04" width="39" height="22.9" rx="0.8" fill="#f9f9fd" stroke="#a6a6a6" stroke-width="0.65"/><circle cx="40.55" cy="157.54" r="1.15" fill="#111"/><text x="44.35" y="165.64" class="dl">X</text><text x="50.05" y="165.64" class="dv">158</text><text x="44.35" y="174.34" class="dl">Y</text><text x="50.05" y="174.34" class="dv">0.0141755</text><text x="126.15" y="265.30" text-anchor="middle" class="s">(<tspan font-weight="bold" font-size="11">c</tspan>)</text><circle cx="4.15" cy="243.50" r="0.6" fill="#777"/></g>
<g><rect x="350.60" y="149.70" width="189.95" height="76.30" fill="none" stroke="#262626" stroke-width="0.45"/><path d="M350.60 226.00v-2.2M350.60 149.70v2.2" stroke="#262626" stroke-width="0.45"/><text x="349.70" y="231.95" text-anchor="middle" class="t">0</text><path d="M382.26 226.00v-2.2M382.26 149.70v2.2" stroke="#262626" stroke-width="0.45"/><text x="381.36" y="231.95" text-anchor="middle" class="t">1000</text><path d="M413.92 226.00v-2.2M413.92 149.70v2.2" stroke="#262626" stroke-width="0.45"/><text x="413.02" y="231.95" text-anchor="middle" class="t">2000</text><path d="M445.58 226.00v-2.2M445.58 149.70v2.2" stroke="#262626" stroke-width="0.45"/><text x="444.68" y="231.95" text-anchor="middle" class="t">3000</text><path d="M477.23 226.00v-2.2M477.23 149.70v2.2" stroke="#262626" stroke-width="0.45"/><text x="476.33" y="231.95" text-anchor="middle" class="t">4000</text><path d="M508.89 226.00v-2.2M508.89 149.70v2.2" stroke="#262626" stroke-width="0.45"/><text x="507.99" y="231.95" text-anchor="middle" class="t">5000</text><path d="M540.55 226.00v-2.2M540.55 149.70v2.2" stroke="#262626" stroke-width="0.45"/><text x="539.65" y="231.95" text-anchor="middle" class="t">6000</text><path d="M350.60 226.00h2M540.55 226.00h-2" stroke="#262626" stroke-width="0.45"/><text x="346.50" y="225.70" text-anchor="end" class="t">0</text><path d="M350.60 206.93h2M540.55 206.93h-2" stroke="#262626" stroke-width="0.45"/><text x="344.80" y="206.62" text-anchor="end" class="t">0.005</text><path d="M350.60 187.85h2M540.55 187.85h-2" stroke="#262626" stroke-width="0.45"/><text x="344.80" y="187.55" text-anchor="end" class="t">0.01</text><path d="M350.60 168.77h2M540.55 168.77h-2" stroke="#262626" stroke-width="0.45"/><text x="344.80" y="168.47" text-anchor="end" class="t">0.015</text><path d="M350.60 149.70h2M540.55 149.70h-2" stroke="#262626" stroke-width="0.45"/><text x="344.80" y="149.40" text-anchor="end" class="t">0.02</text><path transform="translate(350.60 226.00) scale(0.06667 0.03509)" d="M0-529l1 472 1-260 1 147 1-167 1 99 1-74 1 216 1-178 1-163 1 414 1-217 1 104 1 16 1-145 1-120 1 32 1 231 1 104 1-75 1 32 1-252 1 248 1-113 1-24 1-65 1 244 1-71 1-43 1-243 1 313 1 43 1-301 1 162 1 28 1 19 1 12 1-31 1 56 1-14 1-75 1 83 1 14 1-102 1 96 1-168 1 229 1-143 1-138 1 253 1 22 1-215 1 149 1 65 1-5 1-70 1-196 1 142 1 126 1 1 1-46 1-2 1-90 1 141 1-45 1 37 1-62 1-178 1 173 1-246 1 101 1 223 1-113 1-58 1 31 1 86 1 3 1-45 1-77 1 22 1 101 1 34 1-26 1-181 1 158 1 17 1-46 1 110 1-187 1-15 1 173 1-119 1 114 1-44 1-76 1 126 1 28 1-123 1 77 1 0 1 48 1-33 1-66 1 40 1 48 1-20 1 10 1-39 1-27 1 13 1 61 1-1 1-59 1 51 1-4 1-66 1 87 1-43 1-1 1-75 1 9 1 36 1-16 1-105 1 39 1 147 1-47 1 7 1-55 1 57 1 29 1-47 1-6 1 11 1 23 1-37 1 25 1-179 1 214 1-59 1-30 1 39 1-46 1 98 1 18 1-56 1 13 1 0 1 39 1-54 1-86 1 110 1-106 1 63 1 62 1 3 1-38 1-1 1 43 1-21 1-68 1 78 1-94 1 108 1-202 1 200 1-430 1 388 1-127 1 172 1-56 1-5 1-70 1 65 1 20 1-16 1-76 1 90 1-44 1 39 1-141 1 47 1 61 1-36 1-358 1 261 1 145 1-17 1 72 1-2 1-82 1 84 1 16 1-160 1 39 1 48 1-53 1 22 1 77 1 26 1-53 1 21 1-232 1 122 1 18 1-104 1 151 1 42 1-75 1-73 1 48 1 30 1 84 1-95 1 38 1-103 1 128 1 11 1-41 1 76 1-288 1 31 1 162 1 106 1-146 1 74 1 34 1 38 1-30 1-65 1 76 1-140 1 55 1 3 1-13 1 22 1-35 1-117 1 230 1-155 1 106 1-33 1-1 1 48 1 0 1-16 1-19 1 80 1-8 1-63 1-57 1 56 1-108 1 131 1-51 1 67 1-43 1-46 1-33 1 26 1 111 1-6 1-16 1 9 1-27 1-52 1-310 1 424 1-67 1-11 1-28 1 53 1 23 1-145 1 124 1-54 1-10 1 73 1-2 1-22 1 11 1 0 1-56 1 92 1 19 1-136 1 83 1 56 1-146 1 100 1 12 1-3 1-174 1 107 1-13 1 85 1 27 1-20 1-149 1-60 1 209 1-22 1-39 1 34 1-119 1 142 1-7 1 36 1-47 1 42 1-4 1-94 1 11 1-90 1 99 1 19 1-29 1 52 1 3 1-29 1-5 1-29 1 6 1 96 1-262 1 161 1-20 1 98 1-10 1 31 1-152 1 74 1 33 1 27 1-31 1 32 1-123 1 138 1-82 1-23 1 78 1-241 1 263 1-27 1-68 1 94 1-60 1-8 1-82 1 82 1 50 1-45 1-114 1 47 1 81 1-12 1 18 1-68 1 79 1-23 1-74 1 44 1 22 1 37 1-12 1-32 1-134 1 207 1-36 1-6 1-303 1 347 1-23 1-45 1 47 1-105 1 81 1 20 1-139 1-1 1 89 1 80 1-28 1 23 1-63 1 12 1 50 1-98 1-23 1-14 1 113 1 21 1-81 1 20 1 15 1 49 1-32 1 8 1-2 1-6 1-101 1 90 1-21 1 43 1-27 1 14 1 33 1-115 1 58 1 59 1-5 1-75 1 12 1 23 1-14 1-11 1 52 1 13 1 5 1-78 1 26 1 42 1-74 1 76 1-20 1 16 1 9 1-6 1-12 1-3 1-70 1 11 1-11 1-15 1 59 1 43 1-57 1 61 1-17 1-14 1-18 1 28 1 15 1-25 1-87 1 79 1 0 1 27 1-27 1-104 1 147 1-37 1-48 1 12 1 43 1-4 1 4 1-27 1 31 1-10 1 22 1-47 1 3 1 31 1-91 1 97 1-2 1 13 1-23 1 25 1-4 1-62 1-5 1 18 1-3 1 28 1 20 1-9 1-72 1 40 1-114 1 129 1 26 1-94 1 48 1-16 1 10 1 40 1-66 1-91 1 179 1-24 1 26 1-47 1 11 1 38 1-1 1-40 1-40 1 78 1-53 1 28 1 11 1 11 1-91 1 67 1-11 1 26 1-8 1-28 1 43 1-33 1 4 1 26 1-38 1 45 1-102 1-66 1 53 1 115 1-50 1-94 1 42 1 97 1 6 1-40 1-18 1 17 1-32 1 43 1 8 1-54 1 45 1 4 1-25 1 50 1 0 1-58 1 34 1-70 1 56 1-93 1 128 1-130 1 87 1-145 1 114 1 57 1 25 1-39 1 5 1 31 1-44 1 15 1 7 1 20 1-1 1-31 1 0 1 14 1-66 1 41 1-5 1-36 1 81 1-37 1 14 1-1 1 12 1 16 1-13 1-32 1 38 1-32 1 40 1-49 1 55 1-45 1-6 1 25 1 3 1 8 1-61 1 9 1 68 1-71 1 36 1 20 1-27 1 4 1 6 1 16 1-48 1 54 1-33 1 20 1 3 1-23 1 27 1-53 1 61 1-98 1 55 1 25 1 2 1 15 1-36 1 32 1 10 1-22 1-18 1 43 1-16 1-26 1 5 1 31 1-41 1 34 1-80 1 53 1 21 1 13 1-10 1-10 1-66 1 49 1-62 1 88 1-13 1 8 1-23 1-6 1-61 1 67 1 40 1-35 1-6 1 11 1 4 1 15 1-28 1 15 1-3 1 21 1-22 1 31 1-16 1-7 1 9 1 3 1-21 1 17 1 9 1-29 1-33 1 54 1-14 1 16 1-22 1 32 1-4 1-26 1 16 1-9 1 2 1 19 1-57 1 52 1 8 1-59 1 49 1 5 1 1 1-10 1 15 1-3 1-30 1 32 1 1 1-12 1 7 1-28 1 24 1-1 1-17 1 28 1-9 1 1 1 7 1-17 1 18 1 1 1-9 1-3 1-41 1 12 1 21 1-18 1 19 1 12 1 8 1-68 1 52 1 5 1 5 1-4 1 0 1-12 1-1 1-30 1 51 1-11 1-16 1 16 1-8 1 4 1-9 1 18 1-24 1 23 1-12 1-7 1 1 1 26 1-15 1-3 1 11 1-1 1-32 1 5 1 20 1 15 1-15 1-48 1 58 1 2 1-13 1-11 1 10 1-21 1-6 1 27 1 15 1-16 1 8 1-15 1-12 1 29 1 2 1 1 1-95 1 97 1 3 1-17 1 3 1-14 1 24 1 4 1-9 1-19 1 26 1-21 1 12 1 2 1-2 1-50 1 56 1-11 1 3 1 8 1-16 1 6 1 5 1-76 1 61 1 18 1-3 1-24 1 27 1-27 1 21 1-5 1-32 1 23 1 17 1-6 1-11 1-3 1 10 1 14 1-2 1-9 1-10 1 21 1-28 1 9 1-33 1 54 1-9 1 2 1 1 1 9 1-7 1-2 1 11 1-21 1-12 1 24 1 0 1-1 1 7 1-14 1 16 1-10 1-11 1-20 1 33 1 3 1-32 1 36 1-33 1 20 1 5 1-22 1-41 1-30 1 71 1 23 1-19 1 27 1 0 1-44 1 43 1-13 1 14 1-23 1 16 1-2 1 7 1 2 1-7 1-52 1 21 1 22 1-16 1-40 1 62 1 6 1-4 1-13 1 17 1 2 1-46 1 39 1 4 1-7 1 10 1-4 1-2 1-21 1 17 1 0 1 10 1 2 1-16 1 8 1 8 1-3 1-18 1 8 1 7 1-22 1-10 1 28 1-34 1 38 1 0 1 3 1-13 1 2 1-16 1 23 1-11 1 11 1 1 1-23 1 5 1 18 1 6 1-20 1 8 1-18 1 10 1 15 1-36 1 20 1-12 1 17 1-10 1 24 1 2 1-22 1 0 1-18 1-3 1-6 1 33 1-11 1 21 1-4 1 7 1-3 1-11 1 15 1 2 1-27 1-5 1 25 1-6 1-9 1 15 1-3 1-1 1 9 1-29 1 18 1 6 1-10 1-7 1 24 1-2 1-19 1-6 1-47 1 44 1 30 1-18 1 3 1-5 1-9 1 13 1 3 1-20 1 2 1-9 1 33 1-28 1 19 1-39 1 52 1-21 1 23 1-19 1 7 1 2 1-7 1-27 1 38 1-19 1 23 1-49 1 13 1 21 1 11 1-15 1-67 1 60 1 3 1-71 1 94 1-64 1 60 1 3 1 4 1-12 1-10 1 10 1-24 1 32 1-12 1-19 1 21 1-2 1 8 1-12 1-22 1 25 1-62 1 77 1-91 1 77 1-27 1 37 1 0 1-4 1 3 1-8 1-25 1 24 1-25 1 28 1 10 1-15 1 5 1-5 1 13 1-9 1-5 1-12 1 18 1 8 1-49 1 45 1-27 1 20 1-9 1 24 1-8 1-27 1 28 1-21 1 24 1-5 1-3 1-45 1 47 1-1 1-44 1 29 1 27 1-2 1-35 1 22 1-2 1-5 1-25 1 48 1-90 1 84 1-1 1-14 1-3 1-7 1 21 1-19 1 28 1-16 1-19 1 3 1 29 1-7 1-41 1 52 1-8 1 4 1-21 1 9 1-16 1 17 1 4 1 9 1 2 1-37 1 15 1 14 1-12 1 13 1-20 1 6 1-26 1 31 1 6 1-6 1-8 1-24 1 41 1-8 1-6 1 15 1-24 1 29 1-10 1-9 1 18 1-21 1 18 1-6 1-15 1 5 1-7 1 23 1-3 1-22 1 8 1 12 1-36 1 7 1 3 1 26 1-26 1 8 1 23 1-116 1 108 1-53 1 11 1 14 1 27 1 7 1 7 1-29 1 5 1 4 1 12 1-21 1 27 1-7 1-50 1 25 1-25 1 45 1-3 1 7 1-11 1-13 1 32 1-30 1 17 1 11 1-35 1-1 1 20 1 16 1-81 1-16 1-29 1 32 1 88 1-224 1 165 1 32 1-7 1-23 1 48 1 10 1 7 1-153 1-9 1 121 1 42 1-79 1 14 1 16 1 22 1-106 1 123 1-21 1-5 1-117 1 39 1 93 1-94 1 91 1-9 1-68 1 47 1-12 1 29 1 1 1-58 1 92 1-2 1-43 1-2 1 33 1-64 1 58 1-180 1 125 1-126 1 83 1-24 1 29 1 44 1-63 1 108 1 1 1-219 1 203 1-80 1-111 1 167 1-46 1-53 1 36 1 13 1 62 1-91 1 29 1-152 1 136 1 114 1-59 1 38 1-4 1-193 1 148 1-89 1 64 1-264 1 350 1-96 1 90 1-69 1 19 1 3 1 59 1-72 1 35 1-80 1-7 1 4 1 103 1 12 1-95 1 14 1 47 1 19 1 34 1-79 1 41 1 31 1-47 1-12 1-59 1 84 1 38 1-131 1 83 1-127 1 99 1-22 1 8 1 47 1-189 1 183 1 40 1-72 1 34 1-35 1-18 1-4 1-184 1 210 1-13 1 36 1-12 1 7 1-37 1 32 1-107 1 46 1 88 1 40 1 0 1-55 1-109 1 126 1-31 1 30 1-72 1-86 1 62 1 107 1-193 1 192 1-151 1 14 1 40 1 32 1-45 1 7 1-69 1 122 1-133 1 75 1-26 1 168 1-72 1 29 1-28 1-87 1 127 1-6 1-62 1 93 1-162 1 55 1 35 1 47 1-56 1 79 1-11 1-8 1-36 1 41 1-68 1-23 1 57 1-159 1 80 1 9 1 83 1-145 1 24 1-7 1 153 1-12 1-82 1 50 1 15 1 48 1-22 1-95 1 108 1-142 1 124 1-147 1 103 1-19 1 3 1 62 1-54 1-20 1 29 1 18 1 14 1-34 1-242 1 294 1-35 1 1 1-82 1 16 1 100 1-10 1-140 1-41 1 141 1-32 1 101 1-25 1-5 1 15 1 15 1-66 1 24 1 15 1 11 1-92 1 58 1-4 1-11 1 68 1-122 1 9 1 112 1-81 1-161 1 185 1 29 1-54 1 57 1-48 1 31 1 35 1-107 1 15 1 22 1 31 1 35 1-175 1 139 1-4 1-4 1 47 1 6 1-97 1-65 1 159 1-180 1 169 1-34 1-3 1 21 1 10 1 22 1-84 1 76 1-1 1-73 1 75 1-59 1 26 1 28 1-2 1-48 1 38 1-23 1 44 1-49 1 50 1-11 1-37 1 6 1 44 1-25 1-22 1 45 1-24 1-3 1 27 1-35 1 25 1-16 1 0 1-17 1-7 1 49 1-51 1 47 1-45 1 50 1-6 1-36 1-14 1-6 1 55 1 7 1-27 1-36 1-3 1 46 1 6 1-32 1 24 1-28 1 19 1 10 1-37 1 23 1 1 1 14 1-19 1 36 1-57 1 39 1-27 1 47 1-11 1 12 1-9 1-24 1 31 1-35 1 2 1-46 1-3 1-17 1 79 1-74 1 41 1 26 1-22 1 49 1-44 1-13 1 61 1-24 1-17 1 39 1-62 1-6 1 52 1-2 1-36 1 41 1-1 1-9 1 5 1 6 1-2 1 6 1-53 1 29 1-49 1 69 1-37 1 44 1-74 1 42 1-10 1 19 1 24 1-5 1-35 1 24 1-16 1-23 1 9 1-17 1-22 1 64 1 14 1-11 1 17 1-107 1-14 1 34 1 60 1-47 1 44 1-130 1-51 1 184 1 3 1 8 1-12 1-63 1 78 1 11 1-14 1-77 1-46 1 105 1 9 1-28 1-14 1 38 1 31 1-17 1-16 1-27 1-1 1 13 1 3 1-114 1 128 1-69 1 6 1 88 1-11 1 7 1-24 1 19 1-240 1 238 1-7 1-116 1-6 1 72 1 68 1-102 1 63 1-30 1-97 1 111 1-129 1 18 1-36 1 125 1 43 1 20 1-109 1 35 1-86 1-11 1 31 1 80 1-15 1-169 1 12 1 206 1-229 1 233 1-52 1-25 1 92 1-34 1-145 1 29 1-4 1 165 1-93 1 19 1 38 1-2 1 17 1-64 1 40 1 43 1-2 1-8 1-248 1 274 1-67 1 5 1-71 1 85 1-33 1 58 1-18 1-37 1 40 1-10 1 15 1 32 1-183 1 66 1 91 1-29 1-17 1 57 1 15 1-155 1 41 1 96 1-99 1-126 1 224 1 16 1-209 1 169 1 46 1 4 1-69 1-102 1 152 1-25 1 38 1-180 1 60 1-119 1 174 1 13 1-21 1-77 1 3 1 72 1-14 1 43 1-19 1 56 1-37 1 48 1-35 1-7 1 37 1-78 1-137 1 174 1-19 1-35 1 29 1 48 1-234 1 254 1-67 1 30 1-173 1 154 1-28 1 9 1-94 1 176 1-203 1 159 1-56 1-22 1 76 1 24 1-22 1-15 1-139 1 159 1-109 1 92 1-24 1 51 1-56 1 39 1-36 1 60 1-109 1 77 1 14 1-18 1 2 1-8 1-28 1-52 1 68 1 48 1 28 1-108 1 87 1-393 1 395 1-90 1 50 1 54 1-181 1 110 1 57 1-156 1 150 1 1 1-18 1-105 1 137 1-171 1 173 1-59 1 30 1 37 1-78 1 57 1 18 1-92 1 43 1-114 1-68 1 10 1 111 1 8 1-95 1 173 1-7 1 18 1-86 1 82 1-105 1 38 1 15 1-28 1 8 1-10 1-24 1 58 1 56 1-15 1-100 1 79 1 9 1-54 1-93 1 113 1 23 1-100 1 110 1-78 1 88 1-7 1 38 1-101 1 30 1 51 1-12 1-20 1 39 1-189 1 127 1 70 1-114 1 68 1-51 1 81 1-2 1-66 1 21 1-9 1 43 1-43 1-4 1 5 1 58 1-45 1-31 1 62 1-47 1 58 1-296 1 271 1-48 1-7 1 18 1-4 1 73 1-29 1-27 1 57 1-85 1 3 1 76 1-58 1 58 1-85 1 79 1-109 1 127 1 8 1-62 1 46 1-4 1-12 1 16 1-11 1 15 1-14 1-9 1 29 1-6 1-25 1-20 1-92 1 21 1 67 1-18 1 55 1-225 1 195 1 44 1 1 1-28 1-21 1 31 1 13 1-7 1-9 1-7 1 21 1 1 1-69 1 45 1 34 1-108 1 56 1-47 1 90 1-21 1-41 1 49 1-4 1-13 1 7 1 21 1 9 1-82 1 45 1-21 1 40 1-23 1 13 1 24 1-2 1-1 1-22 1-3 1 30 1-24 1-17 1 26 1 7 1-34 1 25 1-49 1 46 1-3 1 30 1-46 1 37 1-28 1 11 1 10 1 11 1-1 1-3 1-2 1-24 1 29 1-5 1 12 1-9 1 0 1-27 1 10 1 19 1-13 1 14 1 0 1-13 1 11 1-22 1 23 1-3 1-37 1 17 1-16 1 35 1-3 1 7 1 8 1-16 1-10 1 5 1 15 1-6 1-19 1 28 1-26 1 25 1-5 1-5 1 7 1 4 1-6 1-6 1-10 1 14 1 5 1 3 1 2 1-7 1 4 1-1 1-5 1-3 1 4 1 5 1 3 1 0 1-22 1 22 1-14 1 5 1 7 1-3 1 1 1-5 1 4 1 0 1 2 1-13 1 7 1-20 1 22 1-1 1-2 1 11 1-6 1-1 1-15 1 18 1 3 1 0 1-16 1 5 1 9 1-6 1 5 1-5 1 0 1 5 1 3 1-12 1 7 1 3 1-8 1-12 1 20 1-12 1-15 1 26 1 2 1-10 1-15 1 21 1 1 1-14 1 15 1-1 1 5 1-25 1 17 1-4 1 7 1-2 1-4 1 4 1 1 1 3 1-10 1-1 1 7 1 6 1-12 1 6 1-4 1-6 1 1 1 0 1 4 1 4 1 4 1-5 1-17 1 19 1 0 1 2 1-13 1-6 1 8 1 11 1-6 1-3 1 5 1 8 1-13 1 7 1 2 1-14 1 17 1-15 1 16 1-1 1-1 1-17 1 13 1-2 1 1 1-3 1 2 1 5 1-1 1-20 1 21 1-12 1 7 1-4 1 10 1-3 1-7 1 8 1-9 1 11 1-8 1-8 1 12 1 2 1-1 1 0 1-20 1 20 1-17 1 20 1-2 1 0 1 2 1 1 1-3 1-2 1 2 1-11 1-5 1 8 1 6 1 5 1-7 1 6 1-2 1 2 1-2 1-1 1-12 1 17 1-32 1 32 1-6 1 3 1-5 1 1 1 1 1 4 1-7 1 0 1-2 1 2 1 9 1 0 1-4 1 3 1-22 1 8 1 4 1 2 1 10 1-6 1-1 1-7 1 12 1-2 1-17 1 15 1-4 1 4 1 2 1-5 1 8 1 1 1-8 1 7 1-9 1 6 1-13 1 14 1-7 1 6 1-3 1 5 1 1 1-20 1 17 1 2 1-7 1 8 1-12 1 10 1 0 1-1 1-17 1 15 1-5 1 7 1-3 1-4 1-8 1 8 1 6 1 0 1 3 1 2 1-10 1-18 1 21 1 5 1 2 1-3 1-10 1 12 1-10 1-19 1 19 1 6 1-6 1 1 1-7 1 5 1-10 1 20 1-17 1 13 1 1 1 1 1 0 1-17 1 14 1 0 1 3 1-3 1-2 1-10 1 1 1 7 1 8 1-10 1-4 1 15 1-16 1 17 1-14 1 8 1-5 1 12 1-3 1-2 1 0 1-3 1 5 1-1 1 0 1-6 1-1 1 10 1-22 1 19 1 2 1-2 1-2 1-2 1 4 1-9 1 4 1-7 1 13 1 0 1-14 1 11 1-8 1 7 1 5 1 0 1-13 1 2 1 9 1-20 1 15 1 3 1 4 1-8 1-4 1 8 1-11 1 15 1 0 1-7 1 3 1 5 1-10 1 0 1-6 1-2 1 18 1-12 1-1 1 9 1 2 1-2 1-5 1 1 1 8 1-15 1 13 1 1 1-27 1 23 1-6 1 9 1 0 1-1 1 2 1-1 1-2 1 3 1-21 1 14 1 6 1 0 1-14 1 15 1 0 1-5 1 3 1-1 1-2 1-1 1 1 1 0 1-37 1 21 1 14 1 0 1 3 1 3 1-7 1 4 1-1 1 3 1-9 1 12 1-3 1-1 1-1 1 1 1-1 1 2 1 4 1-9 1-32 1 34 1 5 1 1 1-2 1 1 1 1 1-2 1-8 1 8 1 0 1-15 1 8 1 2 1-11 1 16 1 0 1-1 1-5 1 8 1-1 1-2 1 1 1 0 1-2 1-20 1 19 1-19 1 17 1 2 1-1 1-2 1 4 1 1 1-1 1-12 1 6 1 9 1-3 1 0 1-1 1 4 1 1 1-13 1 13 1 0 1-19 1 16 1-8 1-9 1 4 1-6 1 10 1 9 1-16 1 18 1-4 1-4 1 3 1-7 1 8 1-23 1 27 1-12 1 4 1 7 1-1 1-9 1 4 1 2 1 5 1-2 1-7 1 1 1 4 1 5 1-2 1-7 1 9 1-4 1-2 1-1 1-2 1 9 1-7 1-7 1 2 1 11 1-1 1-2 1-7 1 5 1 6 1-10 1-4 1-3 1 3 1 14 1-23 1 15 1-1 1 6 1-18 1 19 1-6 1 5 1-7 1 6 1 4 1-2 1-17 1 15 1-13 1 4 1 4 1 9 1 0 1-3 1-15 1 15 1-7 1-9 1 9 1 7 1 1 1 1 1-4 1-5 1-10 1 6 1 6 1-6 1 5 1 7 1-3 1-1 1-4 1-7 1 6 1 11 1-20 1 6 1 7 1 4 1-5 1-10 1 16 1-17 1 20 1-6 1-2 1-11 1 16 1-19 1 20 1-3 1-2 1 6 1-2 1-3 1-18 1 23 1-1 1-14 1 15 1-11 1 12 1-13 1 4 1 2 1-2 1-5 1 2 1 6 1 6 1-5 1 1 1-3 1 4 1-6 1 8 1-1 1-6 1 2 1-6 1 9 1-13 1 15 1-2 1-9 1 11 1-9 1 3 1 0 1 1 1 1 1-14 1 19 1-1 1-25 1 19 1 2 1 4 1-7 1-3 1-2 1 0 1 10 1-13 1 14 1-7 1-13 1 17 1-1 1-1 1-19 1 18 1-17 1 22 1-9 1 4 1-5 1-2 1 3 1 6 1 3 1-1 1-12 1 6 1-7 1-4 1 16 1-10 1 5 1 5 1-5 1 9 1-3 1-3 1 3 1-5 1-1 1-5 1 15 1-12 1-16 1 11 1 17 1-11 1 3 1 3 1-29 1 26 1 4 1-20 1 9 1 4 1 4 1-17 1 14 1 5 1 5 1-7 1 1 1 3 1-3 1 1 1 2 1-7 1-2 1-3 1 10 1 1 1-9 1 4 1 3 1-6 1 4 1 2 1-4 1 10 1-14 1 11 1 0 1-7 1 10 1-2 1 1 1-6 1-3 1 6 1 1 1-7 1 7 1-2 1-1 1-2 1 7 1-4 1 0 1 1 1-1 1-6 1 6 1-3 1 6 1-10 1-2 1 13 1-11 1-19 1 7 1 16 1 1 1 4 1 0 1-11 1 12 1-2 1 1 1-1 1-3 1 2 1-29 1 31 1-8 1 4 1 1 1-6 1-5 1 9 1 5 1-7 1 9 1-24 1 14 1-6 1 15 1 0 1-5 1-16 1 21 1-3 1-15 1 19 1-2 1 3 1-10 1 2 1 1 1 4 1-8 1 2 1-16 1 14 1 9 1-12 1 1 1 7 1-12 1 13 1-6 1-16 1 25 1-5 1 4 1-2 1 2 1 1 1-4 1 1 1-5 1 5 1-1 1-3 1 1 1-9 1 5 1-5 1-8 1 1 1 12 1-13 1 19 1-11 1 8 1 5 1-3 1 2 1-3 1 1 1 2 1-6 1-18 1 19 1 7 1 2 1-11 1-4 1 12 1-10 1 11 1-5 1 4 1 0 1-2 1 1 1-15 1 6 1 9 1-4 1 6 1-2 1-2 1 0 1 2 1 4 1-16 1 8 1 3 1 4 1-10 1 3 1-11 1 10 1 6 1 1 1-23 1 13 1 9 1 2 1-4 1-12 1 17 1-5 1-5 1-3 1 5 1-7 1 12 1 3 1-2 1 3 1-7 1 1 1 2 1-1 1 3 1-5 1-11 1 13 1 2 1 0 1-6 1-1 1 5 1-16 1 8 1 8 1 2 1-14 1 14 1-4 1 2 1 3 1-8 1 5 1 0 1 2 1-6 1-2 1 5 1 5 1-18 1 4 1 8 1 1 1 6 1-8 1 0 1 5 1-6 1 1 1 2 1 1 1 4 1-1 1-3 1-3 1 8 1-2 1 0 1-5 1 0 1-4 1 9 1-11 1 13 1-28 1 17 1 9 1-3 1 4 1-9 1 6 1-23 1 26 1 0 1-3 1 4 1-22 1 20 1-5 1 5 1-9 1 9 1-11 1-2 1 14 1-15 1 15 1-7 1 7 1-14 1 14 1-3 1-12 1 2 1 10 1-2 1 3 1-28 1 20 1-3 1 4 1 3 1 3 1-3 1 1 1-3 1 5 1-8 1-1 1 6 1-8 1 1 1 12 1-5 1 5 1-7 1-7 1 10 1-9" fill="none" stroke="#0072bd" stroke-width="0.6" vector-effect="non-scaling-stroke" stroke-linejoin="round"/><path d="M351.55 226.00V185.94M353.29 226.00V198.95M354.08 226.00V204.13M355.60 226.00V155.82M357.88 226.00V209.50M359.78 226.00V205.86M360.10 226.00V208.74M362.00 226.00V177.92M363.90 226.00V201.88M365.48 226.00V206.80M367.38 226.00V204.04M369.60 226.00V204.43M370.54 226.00V202.11M373.39 226.00V194.53M374.34 226.00V204.99M377.83 226.00V216.53M380.68 226.00V211.05M384.16 226.00V208.88M386.06 226.00V209.69M395.24 226.00V193.44M414.87 226.00V221.65M429.43 226.00V210.70M431.33 226.00V213.42M432.60 226.00V210.88M434.49 226.00V214.48M437.34 226.00V209.56M439.24 226.00V215.33M442.09 226.00V214.64M456.02 226.00V215.94M458.24 226.00V217.76M460.77 226.00V215.80M462.35 226.00V215.82M464.57 226.00V218.73M467.10 226.00V215.84M360.32 226.00V212.07M365.57 226.00V213.13M356.65 226.00V213.28M360.48 226.00V206.59M364.36 226.00V210.75M358.34 226.00V207.31M368.75 226.00V206.55M351.32 226.00V207.74M369.26 226.00V211.63M358.21 226.00V210.37M359.37 226.00V208.46M370.36 226.00V212.12M367.89 226.00V212.87M365.19 226.00V208.79M358.62 226.00V205.96M375.11 226.00V219.09M354.94 226.00V213.83M371.50 226.00V215.09M356.36 226.00V212.17M357.65 226.00V206.40M364.40 226.00V207.56M362.52 226.00V215.69M361.89 226.00V205.03M361.05 226.00V216.30M359.12 226.00V214.69M367.63 226.00V216.57M366.78 226.00V211.57M359.65 226.00V205.43M362.22 226.00V207.88M361.50 226.00V206.78M383.78 226.00V217.93M386.64 226.00V216.67M384.83 226.00V214.06M390.34 226.00V213.59M376.15 226.00V215.56M376.24 226.00V213.88" stroke="#0072bd" stroke-width="0.5" fill="none" opacity="0.8"/><text x="432.90" y="145.40" text-anchor="middle" class="l" style="font-size:4.5px">Spectrum of denoised signal after SR</text><text x="440.70" y="241.50" text-anchor="middle" class="l" style="font-size:4.55px">frequency f/Hz</text><text transform="translate(330.65 194.55) rotate(-90)" text-anchor="middle" class="l" style="font-size:4.7px">Spectrum amplitude</text><rect x="356.70" y="156.32" width="39" height="22.9" rx="0.8" fill="#f9f9fd" stroke="#a6a6a6" stroke-width="0.65"/><circle cx="355.60" cy="155.82" r="1.15" fill="#111"/><text x="359.40" y="163.92" class="dl">X</text><text x="365.10" y="163.92" class="dv">158</text><text x="359.40" y="172.62" class="dl">Y</text><text x="365.10" y="172.62" class="dv">0.0183954</text><text x="441.20" y="265.30" text-anchor="middle" class="s">(<tspan font-weight="bold" font-size="11">d</tspan>)</text><circle cx="319.20" cy="243.50" r="0.6" fill="#777"/></g>
<g><rect x="35.55" y="285.20" width="189.95" height="76.10" fill="none" stroke="#262626" stroke-width="0.45"/><path d="M35.55 361.30v-2.2M35.55 285.20v2.2" stroke="#262626" stroke-width="0.45"/><text x="34.65" y="367.25" text-anchor="middle" class="t">0</text><path d="M67.21 361.30v-2.2M67.21 285.20v2.2" stroke="#262626" stroke-width="0.45"/><text x="66.31" y="367.25" text-anchor="middle" class="t">1000</text><path d="M98.87 361.30v-2.2M98.87 285.20v2.2" stroke="#262626" stroke-width="0.45"/><text x="97.97" y="367.25" text-anchor="middle" class="t">2000</text><path d="M130.52 361.30v-2.2M130.52 285.20v2.2" stroke="#262626" stroke-width="0.45"/><text x="129.62" y="367.25" text-anchor="middle" class="t">3000</text><path d="M162.18 361.30v-2.2M162.18 285.20v2.2" stroke="#262626" stroke-width="0.45"/><text x="161.28" y="367.25" text-anchor="middle" class="t">4000</text><path d="M193.84 361.30v-2.2M193.84 285.20v2.2" stroke="#262626" stroke-width="0.45"/><text x="192.94" y="367.25" text-anchor="middle" class="t">5000</text><path d="M225.50 361.30v-2.2M225.50 285.20v2.2" stroke="#262626" stroke-width="0.45"/><text x="224.60" y="367.25" text-anchor="middle" class="t">6000</text><path d="M35.55 361.30h2M225.50 361.30h-2" stroke="#262626" stroke-width="0.45"/><text x="31.45" y="361.00" text-anchor="end" class="t">0</text><path d="M35.55 348.62h2M225.50 348.62h-2" stroke="#262626" stroke-width="0.45"/><text x="29.75" y="348.32" text-anchor="end" class="t">0.002</text><path d="M35.55 335.93h2M225.50 335.93h-2" stroke="#262626" stroke-width="0.45"/><text x="29.75" y="335.63" text-anchor="end" class="t">0.004</text><path d="M35.55 323.25h2M225.50 323.25h-2" stroke="#262626" stroke-width="0.45"/><text x="29.75" y="322.95" text-anchor="end" class="t">0.006</text><path d="M35.55 310.57h2M225.50 310.57h-2" stroke="#262626" stroke-width="0.45"/><text x="29.75" y="310.27" text-anchor="end" class="t">0.008</text><path d="M35.55 297.88h2M225.50 297.88h-2" stroke="#262626" stroke-width="0.45"/><text x="29.75" y="297.58" text-anchor="end" class="t">0.01</text><path d="M35.55 285.20h2M225.50 285.20h-2" stroke="#262626" stroke-width="0.45"/><text x="29.75" y="284.90" text-anchor="end" class="t">0.012</text><path transform="translate(35.55 361.30) scale(0.06667 0.03446)" d="M0-133l1-108 1 150 1 38 1-106 1 100 1-27 1-212 1 218 1-244 1 39 1 133 1-145 1-33 1 199 1-139 1 40 1 72 1-150 1 251 1-209 1 225 1-202 1 173 1-63 1 55 1-203 1 245 1-138 1 102 1-190 1-23 1 273 1-9 1-112 1 111 1-93 1-60 1 150 1-339 1 200 1 90 1-221 1 194 1-87 1 184 1-39 1-376 1 376 1 31 1-211 1 53 1 47 1 13 1 72 1-94 1-96 1 187 1-343 1 311 1-13 1-18 1 57 1 42 1-220 1 160 1-17 1 56 1-10 1-187 1 166 1 26 1 19 1-74 1-38 1 13 1 15 1-116 1 123 1-162 1 193 1-34 1 77 1-47 1-19 1 47 1-59 1-1 1 92 1-74 1 75 1-82 1 31 1-52 1-18 1 110 1-4 1-1 1-80 1 59 1-25 1 19 1 39 1-25 1 3 1-102 1-52 1 84 1-83 1 96 1-7 1 7 1 71 1-32 1-94 1 91 1 33 1-78 1 63 1-29 1-71 1 11 1 50 1 55 1-38 1-8 1 55 1-13 1-81 1 68 1 2 1 14 1-31 1-15 1 41 1-138 1 127 1 25 1-41 1 3 1 26 1-57 1 52 1-109 1 117 1-84 1-47 1 85 1-9 1-69 1 138 1-128 1 39 1 49 1-94 1 53 1-58 1 121 1 4 1-47 1-185 1 162 1 44 1-80 1 36 1 3 1 15 1 2 1-137 1 4 1 50 1 53 1-29 1-125 1-90 1 225 1 33 1 13 1 30 1-103 1-69 1-22 1-8 1 209 1-67 1-395 1 419 1-18 1-91 1 160 1-81 1 83 1-40 1 35 1 18 1-279 1 266 1-116 1-11 1 22 1 98 1-293 1 291 1-115 1 52 1-23 1 77 1-24 1-35 1 82 1-192 1 46 1 104 1-31 1-27 1 5 1 81 1-102 1 124 1-27 1-317 1 331 1-112 1 26 1 34 1-143 1-52 1 241 1-36 1-253 1 230 1-25 1 89 1-72 1 2 1 62 1-37 1 41 1-225 1 98 1 46 1-25 1 82 1-62 1 88 1-212 1 190 1-13 1 7 1-7 1-96 1 103 1 24 1 13 1-82 1 88 1 0 1-181 1 131 1-111 1 120 1 35 1-75 1-295 1 337 1 22 1-77 1 57 1-179 1 11 1 197 1-130 1 50 1-46 1 107 1 34 1-9 1-17 1 25 1-47 1-16 1-13 1 64 1 13 1-112 1-100 1 193 1 13 1-4 1-105 1 72 1-23 1 41 1-69 1 41 1-34 1 53 1 9 1-62 1 20 1-43 1-40 1 113 1 8 1-80 1 89 1-48 1 25 1-11 1-93 1 134 1-106 1 35 1 1 1 5 1 43 1-38 1 50 1-221 1 170 1-85 1 101 1-7 1 17 1-98 1 63 1 34 1-87 1 99 1-9 1 6 1-8 1 47 1-81 1 38 1-26 1 31 1-107 1 83 1-5 1-6 1-19 1 31 1-19 1 21 1 32 1-100 1 32 1 13 1-26 1 105 1 0 1-75 1 15 1 27 1-21 1 49 1-249 1 246 1-28 1-3 1 35 1-55 1 16 1-34 1 80 1-121 1-79 1-39 1 212 1-189 1 123 1 35 1 0 1 55 1-114 1 49 1 47 1 12 1-113 1 91 1-17 1 38 1-28 1 15 1 18 1-63 1 6 1 9 1 15 1 20 1-2 1-16 1 21 1-58 1 36 1-15 1-39 1 73 1-109 1 61 1 53 1-98 1 9 1 46 1 44 1 1 1-5 1-6 1 3 1-5 1-9 1 23 1-54 1-4 1-83 1 98 1 50 1-31 1-141 1 92 1 67 1-39 1 45 1-5 1 13 1-87 1 41 1 12 1 30 1-42 1-11 1-35 1 26 1 35 1-78 1 88 1-40 1 61 1-40 1-16 1 41 1-142 1 120 1-8 1-1 1 35 1-85 1 74 1 10 1-5 1-22 1 36 1-35 1 33 1-38 1 21 1-8 1-60 1 61 1 19 1-23 1 29 1-130 1 135 1-46 1 39 1-78 1 60 1 17 1-9 1-51 1-29 1-39 1 113 1 14 1-47 1 38 1 3 1-12 1-28 1-19 1 75 1-45 1 16 1-17 1-31 1 71 1-149 1 40 1 29 1 48 1-4 1-287 1 267 1 24 1-80 1 84 1 14 1-30 1 7 1 42 1-103 1-153 1 226 1-94 1 46 1 63 1 1 1-24 1 3 1 29 1-39 1 31 1-58 1-10 1-3 1-9 1-26 1 15 1 62 1-88 1-6 1 21 1 71 1 43 1-115 1 80 1-18 1 17 1-94 1-47 1 104 1-20 1 39 1-38 1 26 1-19 1 83 1-5 1-124 1 32 1 65 1 33 1-44 1 41 1-94 1 97 1-47 1-12 1 58 1-15 1-13 1 5 1-24 1-10 1 56 1 8 1-42 1-64 1 94 1 2 1-38 1 32 1-204 1 187 1 8 1 14 1 5 1-41 1-57 1 33 1 69 1-2 1-11 1-31 1-42 1 60 1 12 1-14 1-69 1 86 1-47 1 32 1 23 1-23 1 26 1-29 1 17 1-7 1-17 1 11 1 24 1-5 1-46 1 41 1-31 1 14 1 4 1-94 1 55 1 53 1 10 1-4 1-12 1-6 1-22 1 46 1-28 1-6 1-6 1-49 1 72 1 14 1 0 1-84 1 48 1 23 1 7 1-71 1 59 1 9 1-45 1 54 1-38 1-19 1 26 1-6 1 20 1-39 1 44 1-46 1-4 1 55 1-18 1-23 1-26 1 42 1 25 1-108 1 91 1-65 1 83 1-66 1 66 1-7 1-16 1-11 1 33 1-28 1-35 1 0 1 54 1-38 1 46 1-26 1 23 1 2 1-36 1 20 1 7 1-21 1 16 1 2 1 10 1-35 1 15 1 4 1 7 1 12 1-4 1 15 1-4 1-1 1-2 1-11 1-12 1 16 1 6 1-36 1 21 1 13 1 6 1 4 1-3 1-28 1 30 1-29 1-10 1 6 1 8 1-6 1 24 1 2 1-16 1 22 1-11 1 11 1-9 1-16 1 10 1-5 1-9 1 25 1-5 1 3 1-20 1 6 1 9 1 0 1-19 1 23 1 0 1-4 1-6 1-1 1 2 1-1 1 1 1 7 1 7 1 1 1-27 1 18 1-6 1 6 1-8 1 9 1 1 1-4 1 0 1 5 1-21 1 23 1-10 1 13 1 0 1-13 1 2 1-36 1 47 1-14 1 16 1 1 1-11 1 8 1-5 1-10 1 1 1 6 1-39 1 45 1 0 1-38 1 30 1 12 1-5 1-7 1-22 1 28 1-14 1-24 1 41 1-12 1 13 1 1 1-11 1-11 1 5 1-15 1 5 1 19 1 10 1-3 1-1 1-13 1-40 1 42 1-10 1 21 1-12 1 4 1-5 1 8 1 7 1-34 1 29 1-3 1-10 1 8 1-20 1-16 1 31 1 10 1-3 1-22 1-9 1 41 1-13 1-41 1 48 1-11 1 0 1-53 1 50 1 5 1 2 1-3 1-40 1 31 1 17 1 1 1-3 1 5 1-21 1 13 1-34 1 39 1-3 1 3 1-2 1 3 1 4 1-20 1 14 1-1 1-15 1 11 1 2 1 5 1 6 1 1 1-5 1-24 1 27 1-11 1-18 1 19 1-42 1 36 1 15 1-21 1 0 1 13 1-21 1 28 1-37 1 36 1-11 1-7 1-1 1 7 1 2 1 10 1-7 1 10 1-33 1 10 1 13 1-4 1-5 1-37 1 53 1-14 1-23 1 22 1-9 1-19 1 40 1-11 1 12 1-60 1 47 1-22 1 41 1-4 1-8 1 11 1-11 1 7 1-17 1-8 1 15 1 14 1-5 1 4 1-44 1 45 1-5 1 6 1-5 1-26 1 2 1 2 1 12 1 9 1 1 1-36 1 36 1-7 1 12 1-4 1-38 1 19 1 14 1-22 1 30 1-23 1 17 1-10 1 9 1-7 1 9 1 3 1-32 1 21 1 1 1-8 1 4 1 8 1-17 1 19 1-11 1-13 1 13 1-2 1-37 1 37 1-14 1-32 1 55 1-7 1-49 1 58 1 3 1 5 1-20 1-15 1 18 1-7 1 13 1-3 1 3 1-12 1-28 1 51 1-9 1 10 1-5 1-15 1 10 1 1 1-5 1-5 1 13 1-28 1-40 1 32 1 39 1 2 1-13 1 2 1 13 1-26 1 23 1-66 1 45 1 17 1-37 1 29 1-26 1 23 1-1 1 0 1 9 1-38 1 44 1-5 1-46 1 53 1-59 1 45 1-67 1 69 1-8 1 21 1-33 1 32 1-2 1 4 1-25 1 23 1-6 1-7 1 3 1-1 1-39 1 49 1-7 1-3 1 2 1 1 1 7 1-37 1 39 1-32 1-12 1 11 1 4 1 16 1 12 1-42 1 44 1-7 1-36 1 38 1-21 1 13 1-45 1 45 1-1 1-5 1-13 1 26 1-6 1-14 1 26 1-12 1-8 1 8 1-14 1 25 1-12 1 1 1-10 1 8 1 11 1-12 1 3 1-16 1 26 1-1 1-5 1-15 1 0 1-3 1 7 1-32 1 44 1-60 1 33 1 20 1-11 1 9 1-13 1 23 1-2 1 4 1 3 1-17 1-9 1 7 1 12 1 5 1-24 1 19 1-6 1 7 1-64 1 53 1-10 1 12 1-1 1-36 1 39 1 5 1 7 1-10 1-1 1 2 1 1 1-6 1 1 1 5 1 7 1-63 1 42 1-9 1 25 1 8 1-38 1 1 1 32 1 0 1-8 1-2 1 13 1-18 1-8 1-7 1 19 1 2 1 1 1-21 1-7 1 34 1-9 1 7 1 3 1 5 1-10 1-4 1-16 1 19 1-7 1-12 1 8 1 8 1-13 1-11 1 30 1-34 1 35 1 2 1 0 1-16 1-36 1 49 1-4 1-37 1 8 1 4 1-38 1 13 1 34 1-5 1 13 1 8 1-16 1-14 1 7 1-47 1 55 1-213 1 192 1 15 1 27 1 5 1-121 1 116 1-33 1 35 1-119 1 99 1-1 1-51 1 12 1-29 1 58 1 16 1-36 1 34 1 11 1-156 1 145 1-90 1-33 1 76 1 59 1-125 1 134 1-82 1 61 1-16 1-58 1 11 1-29 1 81 1 28 1-6 1-140 1 52 1 88 1-6 1-49 1-83 1 92 1 5 1-23 1 14 1 20 1-16 1-28 1-124 1 107 1 29 1 53 1-230 1 161 1-113 1 155 1-285 1 141 1 20 1 107 1-83 1 46 1 92 1-14 1-47 1-73 1 35 1 58 1-116 1 12 1 62 1-118 1 202 1-94 1-44 1-11 1 49 1 85 1 22 1-141 1 30 1 78 1 15 1-40 1-7 1 58 1 6 1-35 1-32 1 50 1-5 1-34 1 38 1-61 1-9 1-9 1 75 1-116 1-40 1 85 1-16 1 101 1-51 1 8 1-14 1 64 1-18 1-89 1 79 1-14 1 41 1-37 1-5 1-213 1 231 1-40 1 35 1-37 1 7 1 59 1-90 1-21 1 89 1-91 1 89 1 19 1-179 1 181 1-43 1-58 1 41 1 36 1-50 1 3 1-60 1 99 1-38 1 62 1-107 1-51 1 168 1-81 1-80 1 16 1 105 1 35 1-14 1-52 1 3 1-154 1 127 1 52 1-43 1-48 1 1 1-22 1 93 1-14 1-81 1 89 1 69 1-148 1 90 1 2 1-78 1 100 1-33 1 20 1-88 1 10 1 91 1 2 1-63 1-62 1 91 1-67 1 129 1-32 1 36 1-60 1 7 1-105 1 46 1-67 1 103 1-104 1 176 1-10 1-346 1 339 1-74 1 38 1-41 1-228 1 274 1-32 1-36 1 25 1-9 1 37 1-28 1 58 1 12 1-81 1 71 1 12 1-23 1 18 1 16 1-71 1-135 1 205 1 3 1-49 1-26 1 58 1-199 1 111 1 61 1-72 1 24 1-31 1 116 1-14 1 12 1 2 1 3 1-124 1 32 1-54 1 148 1 10 1-85 1 86 1-20 1-17 1-1 1-67 1 78 1-75 1 83 1-24 1-14 1 40 1-32 1 46 1-16 1 12 1-53 1 47 1-6 1-58 1-27 1 88 1-42 1-57 1 114 1-1 1-70 1 60 1-40 1-23 1 66 1 11 1-61 1 45 1-5 1 18 1-35 1 8 1 0 1 13 1-6 1 20 1-37 1 30 1-2 1 12 1-31 1-38 1 19 1 48 1-43 1 7 1-116 1 81 1 24 1 39 1-7 1 3 1-46 1 57 1-2 1 4 1-32 1-71 1 101 1-34 1-32 1 60 1 6 1-13 1-20 1 29 1 3 1-91 1 90 1-48 1-2 1 34 1 5 1 8 1-1 1-80 1 75 1 5 1-48 1 48 1-5 1 5 1-22 1 9 1-2 1-10 1 27 1 4 1-73 1 43 1 27 1-42 1-15 1 19 1 10 1-17 1 15 1-55 1 47 1 4 1 24 1 12 1 4 1-16 1 1 1-97 1 79 1 16 1-13 1 26 1-7 1-7 1-60 1 36 1 29 1-4 1-59 1 73 1-21 1 16 1-27 1 32 1-65 1 63 1-16 1 6 1-19 1-105 1 69 1 35 1-11 1 27 1-30 1-60 1 97 1-163 1 110 1 42 1-74 1 65 1-7 1-69 1 55 1 20 1-24 1 47 1-203 1 137 1 0 1-108 1 139 1 27 1-30 1-128 1 78 1-45 1 124 1-48 1 33 1-142 1 59 1-10 1 72 1-85 1 51 1 60 1-22 1 29 1-4 1 24 1-182 1 83 1-17 1-14 1 29 1 95 1-50 1-17 1 21 1-98 1 149 1-19 1 4 1-150 1 124 1-70 1 58 1 33 1-106 1 12 1-15 1 97 1-15 1 11 1-38 1-76 1 91 1-424 1 310 1 132 1 13 1-38 1-62 1-255 1 283 1 58 1-36 1 84 1-47 1-143 1 189 1-38 1-134 1 23 1 102 1 0 1 13 1-65 1 76 1 6 1 8 1-32 1 4 1-57 1 84 1-63 1-49 1 40 1 40 1-14 1-66 1-26 1 38 1-147 1 214 1 15 1-9 1-6 1-172 1 82 1 60 1 16 1-51 1 53 1-56 1 72 1-2 1 6 1 17 1-4 1 9 1 10 1-111 1 63 1 44 1-98 1 82 1-24 1-164 1-2 1 122 1-133 1-50 1 82 1 104 1 74 1-73 1-218 1 261 1 5 1-56 1-58 1 121 1-29 1-11 1-14 1-90 1 131 1-157 1 35 1 40 1 3 1-3 1 0 1 55 1 56 1-93 1 101 1-19 1-48 1-299 1 233 1 78 1-40 1 0 1 7 1 36 1 46 1-5 1-13 1-21 1-15 1 40 1-16 1-84 1 45 1-6 1 79 1-32 1 37 1-91 1 38 1-129 1 105 1 52 1-123 1 99 1-58 1 61 1 27 1-52 1 34 1-22 1 57 1-103 1 105 1-82 1-23 1 75 1-185 1 141 1 4 1-50 1 87 1 25 1-135 1 44 1 42 1-14 1-89 1 122 1 9 1-34 1-11 1 49 1-53 1-47 1 29 1 3 1 23 1 33 1-29 1 29 1 15 1-34 1 16 1-23 1-19 1-73 1 146 1-51 1-61 1 60 1 18 1 43 1-96 1-117 1 212 1-78 1 6 1 40 1 24 1-13 1-1 1-4 1 0 1-83 1 10 1 44 1-71 1 7 1 93 1 15 1-113 1 82 1 35 1-25 1-323 1 347 1-134 1 126 1 11 1-53 1-61 1 85 1-108 1 122 1-31 1 53 1-92 1 65 1-69 1-31 1-52 1-40 1 215 1-124 1-29 1 70 1 55 1-3 1 7 1-128 1 46 1 101 1-35 1-21 1-9 1-4 1 4 1 65 1-53 1 8 1 8 1-8 1-8 1-76 1-62 1 177 1-131 1 61 1-56 1-1 1 98 1 2 1 34 1-40 1-22 1-36 1 72 1-50 1 86 1-72 1 40 1 10 1 5 1-15 1-138 1 151 1-63 1 50 1 32 1-35 1 24 1-22 1-34 1 66 1-14 1-19 1 31 1-25 1 15 1-48 1-34 1 22 1-3 1 43 1 13 1-39 1 43 1 4 1-35 1 31 1 2 1-6 1 20 1-19 1-8 1 36 1-84 1 53 1 17 1-74 1 57 1 29 1-16 1 12 1-4 1-3 1-29 1 29 1 7 1-20 1-35 1 55 1-11 1 14 1-17 1 17 1-22 1 20 1 6 1-20 1-4 1 2 1 1 1 1 1 5 1 14 1-6 1 8 1-13 1-14 1-16 1 29 1-4 1 12 1 1 1-21 1 18 1 8 1-10 1-18 1 24 1-4 1-5 1-43 1 32 1 4 1 4 1 12 1 0 1-25 1-19 1 32 1 4 1-7 1 12 1 5 1-5 1 5 1-24 1 11 1 0 1-5 1 13 1-3 1 8 1-17 1 4 1-8 1 17 1 3 1 1 1-4 1-15 1 19 1-4 1-7 1 5 1 4 1-9 1-2 1 9 1-1 1 1 1 4 1-24 1 16 1 8 1-9 1 5 1-2 1-14 1 7 1 6 1 6 1-10 1 11 1-4 1-9 1 14 1-20 1 20 1-3 1 1 1-30 1 25 1-2 1-6 1 11 1-3 1 2 1 3 1-19 1 20 1-21 1-2 1 24 1-1 1-5 1-30 1 36 1-15 1 15 1-7 1 7 1-6 1-5 1 1 1 2 1-3 1-2 1 1 1 11 1-11 1 13 1-5 1 2 1-20 1 23 1-11 1 5 1 4 1-12 1 13 1-5 1 0 1-4 1 2 1 2 1 2 1 2 1-3 1-19 1 22 1-9 1-7 1 1 1 15 1-13 1 7 1-9 1 7 1-4 1 12 1-1 1-21 1 19 1-8 1 9 1 2 1-1 1 2 1-8 1 6 1-5 1 5 1-10 1 3 1 0 1 6 1 2 1-8 1-10 1 14 1-2 1-14 1 13 1 7 1 1 1-5 1-4 1-2 1 4 1 2 1-24 1 1 1 25 1-2 1 3 1-4 1-20 1 23 1-8 1-14 1 13 1 6 1-4 1-12 1 17 1-20 1 25 1 0 1-8 1 5 1-3 1 6 1 0 1-11 1 6 1 1 1-2 1 5 1-5 1-21 1 26 1-1 1-22 1 24 1-1 1-22 1 23 1-22 1 16 1-4 1-2 1-2 1 4 1 0 1-5 1 9 1 3 1-12 1 12 1-18 1 15 1 1 1-6 1 10 1-14 1 9 1 0 1 6 1-12 1 12 1-5 1 4 1-26 1 23 1-12 1 14 1-3 1-6 1-3 1-12 1 10 1 12 1 4 1-9 1 5 1-7 1-3 1 10 1 1 1-14 1 11 1-9 1-2 1 6 1 10 1-11 1-4 1 9 1 3 1-6 1 10 1-42 1 27 1 8 1 5 1-18 1 17 1 3 1 0 1-1 1-2 1-2 1 4 1-8 1 10 1-10 1-1 1 8 1-3 1 0 1-9 1-4 1 7 1-11 1 18 1-16 1 9 1 8 1 1 1-7 1 7 1-3 1-3 1 1 1-7 1 10 1 4 1 0 1-3 1 1 1-3 1-6 1 4 1 4 1-5 1-4 1 10 1-9 1 4 1-7 1 13 1 1 1 1 1-9 1-4 1-26 1 34 1-9 1-6 1 7 1-1 1 13 1-6 1-2 1 6 1 1 1-15 1 13 1-2 1 6 1-18 1 7 1 6 1-13 1 15 1-5 1 3 1-10 1-2 1 16 1-22 1 11 1 8 1 2 1-14 1 15 1-3 1-10 1 6 1 1 1 2 1-3 1-6 1 6 1 2 1 1 1-13 1 10 1-6 1 12 1-3 1-15 1-3 1 12 1 5 1-8 1-7 1 8 1-2 1 13 1-1 1 0 1-8 1 8 1-8 1 1 1 8 1-18 1 13 1-13 1 15 1-1 1 1 1 0 1-6 1 9 1-4 1 6 1-16 1 14 1-6 1-3 1 11 1-3 1-10 1 0 1-7 1 18 1-16 1 14 1 0 1 0 1-3 1 4 1-13 1 3 1 3 1 0 1 5 1-19 1 23 1-5 1-6 1-2 1 13 1-6 1 2 1-2 1 1 1 5 1-9 1 7 1-1 1-2 1-9 1 1 1 14 1-8 1 7 1-5 1 3 1-9 1 7 1-2 1 5 1 2 1-11 1 10 1-12 1 10 1-13 1 13 1 2 1-11 1 6 1 6 1-16 1 12 1-3 1-13 1 12 1 1 1-2 1 5 1 2 1-11 1 13 1-3 1-9 1 8 1 3 1 0 1-26 1 24 1-14 1-1 1 16 1-1 1-9 1-8 1 9 1-3 1 13 1-4 1-5 1 9 1-5 1-4 1-27 1 24 1-13 1 25 1-18 1 13 1 0 1 4 1-16 1 13 1-6 1 7 1-1 1-6 1 8 1 2 1-9 1 8 1-5 1 1 1 5 1-14 1 8 1-1 1 0 1 1 1 6 1-11 1 10 1-1 1-8 1 2 1 5 1-17 1 15 1-7 1 7 1-2 1-3 1 0 1 0 1-5 1 11 1-3 1-3 1 1 1-3 1 11 1-13 1-3 1-4 1 18 1 4 1-7 1 3 1 4 1-6 1-3 1 0 1 7 1-8 1-6 1 9 1-4 1 4 1-6 1-3 1 13 1 2 1-2 1-31 1 16 1 18 1-3 1-1 1 0 1-4 1 6 1 0 1 1 1 0 1-4 1 1 1-1 1 2 1 0 1-8 1 10 1-3 1-1 1 2 1 0 1 1 1-2 1-3 1-5 1 0 1-3 1 6 1 3 1-4 1 3 1 3 1-10 1 11 1-8 1 9 1-7 1-2 1-5 1 9 1-8 1 3 1 6 1-1 1 2 1-5 1-7 1 11 1-12 1 12 1-25 1 27 1-2 1 4 1 0 1-5 1 6 1-8 1-5 1 12 1-6 1 7 1-3 1 3 1-2 1 0 1-3 1-6 1 10 1 0 1-15 1 12 1 1 1-14 1 17 1-15 1-5 1 14 1 5 1-9 1 8 1-22 1 21 1-6 1-25 1 29 1-22 1 22 1-1 1-10 1 5 1 6 1-2 1 1 1 0 1 2 1 1 1-4 1-6 1 13 1-1 1-8 1 4 1 2 1 1 1 1 1-3 1 2 1-2 1-3 1 5 1-2 1 0 1-5 1 7 1-5 1-2 1 2 1-2 1 1 1-3 1 0 1-8 1 13 1 4 1-3 1 5 1-13 1 2 1 7 1-2 1 4 1 0 1-2 1-18 1 16 1-2 1 5 1-4 1 1 1-12 1 15 1-1 1-2 1-2 1 1 1 6 1-5 1 4 1-8 1 5 1-2 1 2 1-11 1 10 1 1 1 5 1-3 1-1 1-4 1-6 1 8 1 4 1-2 1-10 1 11 1 1 1 0 1-5 1 5 1 2 1 1 1-3 1-9 1 7 1 0 1 0 1 2 1-15 1 12 1 5 1-8 1-9 1 16 1-1 1-6 1 7 1-7 1-5 1-1 1 14 1 0 1-11 1 5 1-3 1 4 1 5 1-7 1 8 1-11 1 9 1-7 1 5 1-5 1 5 1 3 1-9 1 3 1 3 1-5 1 2 1 7 1-23 1 6 1-19 1 32 1 2 1 1 1-6 1 4 1-3 1 5 1-27 1 15 1 8 1-3 1-8 1 11 1 4 1-3 1-26 1 19 1-9 1 15 1-2 1-9 1 12 1-2 1-7 1 7 1 2 1-6 1 5 1 3 1-8 1 2 1 3 1 2 1 0 1-3 1-12 1 17 1 0 1 0 1-13 1 13 1 0 1-5 1 3 1-2 1-7 1 10 1-3 1-6 1-5 1 14 1 0 1-12 1 2 1 11 1 0 1-1 1-3 1 2 1 0 1-1 1 2 1-4 1 0 1 5 1 1 1-19 1 10 1 4 1-2 1 3 1 2 1-13 1 0 1 0 1 7 1 5 1-2 1 4 1-6 1 7 1-5 1-5 1-4 1 5 1 1 1-1 1-6 1 8 1-1 1 7 1-29 1 28 1-14 1 7 1-1 1-3 1 8 1-4 1-1 1-3 1 7 1-7 1 10 1-1 1 2 1-7 1-7 1 6 1-1 1-9 1 19 1-3 1-2 1 0 1 3 1-6 1-3 1 0 1 10 1-11 1 9 1 1 1-5 1 7 1-7 1-19 1 24 1 2 1-6 1-2 1 4 1-11 1 12 1-17 1 16 1-5 1 5 1 3 1-9 1 10 1-5 1 1 1 4 1-18 1 13 1 3 1 0 1-12 1 14 1 0 1-12 1 7 1 2 1 2 1-5 1 4 1-2 1 4 1-11 1 4 1 5 1-8 1 5 1 1 1 2 1-6 1-1 1 6 1-2 1 3 1-2 1 4 1-9 1 10 1-2 1-1 1-14 1 7 1 6 1-8 1-1 1 8 1-1 1 3 1-12 1 12 1 2 1-4 1-8 1 7 1 1 1-10 1-3 1 8 1-10 1 3" fill="none" stroke="#0072bd" stroke-width="0.6" vector-effect="non-scaling-stroke" stroke-linejoin="round"/><path d="M36.50 361.30V324.07M38.24 361.30V334.39M39.03 361.30V338.12M40.55 361.30V292.38M42.83 361.30V345.02M44.73 361.30V342.49M45.05 361.30V344.40M46.95 361.30V314.03M48.85 361.30V338.15M50.43 361.30V340.26M52.33 361.30V336.97M54.55 361.30V341.81M55.49 361.30V336.29M58.34 361.30V331.03M59.29 361.30V340.82M62.78 361.30V352.14M65.63 361.30V346.43M69.11 361.30V346.15M71.01 361.30V346.07M80.19 361.30V326.65M99.82 361.30V357.31M114.38 361.30V345.64M116.28 361.30V350.48M117.55 361.30V345.60M119.44 361.30V350.21M122.29 361.30V344.31M124.19 361.30V351.63M127.04 361.30V349.94M140.97 361.30V351.04M143.19 361.30V353.34M145.72 361.30V350.74M147.30 361.30V352.03M149.52 361.30V353.74M152.05 361.30V351.32M45.44 361.30V345.12M53.81 361.30V351.04M54.76 361.30V354.50M47.29 361.30V350.35M46.26 361.30V342.39M40.84 361.30V348.49M51.22 361.30V350.62M48.72 361.30V342.46M39.84 361.30V342.37M44.18 361.30V351.42M43.03 361.30V342.23M40.82 361.30V343.88M58.14 361.30V349.22M37.36 361.30V351.30M40.01 361.30V345.95M36.96 361.30V340.57M36.51 361.30V344.62M38.58 361.30V347.35M39.43 361.30V343.71M60.10 361.30V349.31M49.12 361.30V345.21M59.78 361.30V347.82M39.34 361.30V340.48M43.68 361.30V344.02M54.91 361.30V352.24M45.86 361.30V348.21M49.53 361.30V351.06M57.66 361.30V351.27M49.70 361.30V340.62M50.95 361.30V348.50M74.76 361.30V350.65M75.93 361.30V350.12M74.70 361.30V352.57M74.69 361.30V350.39M61.00 361.30V355.22M67.49 361.30V352.46" stroke="#0072bd" stroke-width="0.5" fill="none" opacity="0.8"/><text x="117.85" y="280.90" text-anchor="middle" class="l" style="font-size:4.5px">Spectrum of denoised signal after SR</text><text x="125.65" y="376.80" text-anchor="middle" class="l" style="font-size:4.55px">frequency f/Hz</text><text transform="translate(15.60 330.05) rotate(-90)" text-anchor="middle" class="l" style="font-size:4.7px">Spectrum amplitude</text><rect x="41.65" y="292.88" width="39" height="22.9" rx="0.8" fill="#f9f9fd" stroke="#a6a6a6" stroke-width="0.65"/><circle cx="40.55" cy="292.38" r="1.15" fill="#111"/><text x="44.35" y="300.48" class="dl">X</text><text x="50.05" y="300.48" class="dv">158</text><text x="44.35" y="309.18" class="dl">Y</text><text x="50.05" y="309.18" class="dv">0.0108677</text><text x="126.15" y="399.90" text-anchor="middle" class="s">(<tspan font-weight="bold" font-size="11">e</tspan>)</text><circle cx="4.15" cy="378.80" r="0.6" fill="#777"/></g>
<g><rect x="350.60" y="285.20" width="189.95" height="76.10" fill="none" stroke="#262626" stroke-width="0.45"/><path d="M350.60 361.30v-2.2M350.60 285.20v2.2" stroke="#262626" stroke-width="0.45"/><text x="349.70" y="367.25" text-anchor="middle" class="t">0</text><path d="M382.26 361.30v-2.2M382.26 285.20v2.2" stroke="#262626" stroke-width="0.45"/><text x="381.36" y="367.25" text-anchor="middle" class="t">1000</text><path d="M413.92 361.30v-2.2M413.92 285.20v2.2" stroke="#262626" stroke-width="0.45"/><text x="413.02" y="367.25" text-anchor="middle" class="t">2000</text><path d="M445.58 361.30v-2.2M445.58 285.20v2.2" stroke="#262626" stroke-width="0.45"/><text x="444.68" y="367.25" text-anchor="middle" class="t">3000</text><path d="M477.23 361.30v-2.2M477.23 285.20v2.2" stroke="#262626" stroke-width="0.45"/><text x="476.33" y="367.25" text-anchor="middle" class="t">4000</text><path d="M508.89 361.30v-2.2M508.89 285.20v2.2" stroke="#262626" stroke-width="0.45"/><text x="507.99" y="367.25" text-anchor="middle" class="t">5000</text><path d="M540.55 361.30v-2.2M540.55 285.20v2.2" stroke="#262626" stroke-width="0.45"/><text x="539.65" y="367.25" text-anchor="middle" class="t">6000</text><path d="M350.60 361.30h2M540.55 361.30h-2" stroke="#262626" stroke-width="0.45"/><text x="346.50" y="361.00" text-anchor="end" class="t">0</text><path d="M350.60 342.27h2M540.55 342.27h-2" stroke="#262626" stroke-width="0.45"/><text x="344.80" y="341.97" text-anchor="end" class="t">0.005</text><path d="M350.60 323.25h2M540.55 323.25h-2" stroke="#262626" stroke-width="0.45"/><text x="344.80" y="322.95" text-anchor="end" class="t">0.01</text><path d="M350.60 304.23h2M540.55 304.23h-2" stroke="#262626" stroke-width="0.45"/><text x="344.80" y="303.93" text-anchor="end" class="t">0.015</text><path d="M350.60 285.20h2M540.55 285.20h-2" stroke="#262626" stroke-width="0.45"/><text x="344.80" y="284.90" text-anchor="end" class="t">0.02</text><path transform="translate(350.60 361.30) scale(0.06667 0.03418)" d="M0-326l1-289 1 1 1 595 1-189 1-176 1 295 1-525 1 458 1 110 1-1 1-473 1 206 1 229 1-70 1-503 1 492 1-163 1 328 1-186 1 57 1-12 1 11 1 74 1-756 1 450 1 263 1-117 1-31 1 225 1-269 1 199 1-22 1-43 1 46 1-19 1 121 1-66 1 33 1 23 1-67 1-219 1 261 1 41 1-363 1 83 1 262 1-34 1 52 1-168 1-30 1 78 1-104 1 105 1-54 1-43 1 66 1-150 1 209 1 76 1-166 1 158 1-18 1-155 1-40 1 181 1-173 1 203 1-24 1-126 1 93 1 65 1-19 1-22 1-12 1 26 1-20 1 43 1-8 1-116 1-4 1 131 1-88 1 46 1-120 1 97 1 70 1-26 1-14 1 53 1-25 1-23 1-33 1-7 1-29 1-25 1 47 1-41 1 116 1-97 1 63 1 43 1-16 1-92 1-51 1 31 1 99 1-44 1-122 1 163 1-8 1-217 1 164 1 36 1-138 1 97 1 88 1-33 1 36 1-3 1 14 1-90 1-45 1 109 1-50 1-15 1-32 1 112 1-49 1-39 1-63 1 154 1-74 1 74 1 0 1-22 1-102 1 140 1-55 1 47 1-60 1 62 1-139 1 119 1-2 1-45 1-21 1 88 1-40 1-179 1 179 1 37 1-200 1 172 1 7 1-36 1 54 1-90 1-25 1 109 1 3 1-251 1 149 1 85 1-22 1 30 1-232 1 208 1-228 1 168 1-320 1 411 1 10 1-33 1 29 1-76 1 70 1 18 1-38 1-12 1-49 1-32 1-82 1 142 1-97 1-190 1 207 1 41 1-156 1 163 1-31 1-24 1-33 1 167 1-107 1 61 1 1 1-47 1 51 1 17 1-86 1 59 1-8 1-24 1-4 1 65 1-76 1-7 1-21 1 9 1-26 1 98 1-31 1-80 1 163 1-17 1 15 1-167 1 34 1-61 1 80 1-58 1 181 1-239 1 211 1-261 1 25 1 102 1-30 1 102 1 92 1-94 1 75 1 19 1-204 1 160 1-280 1 31 1 196 1 87 1-28 1-6 1-114 1 103 1 43 1-78 1-218 1 183 1 46 1 25 1-127 1 5 1 43 1 102 1 5 1 8 1-31 1 31 1-21 1 47 1-26 1-35 1-31 1-12 1-2 1 79 1-40 1 28 1-376 1 344 1-35 1 2 1 41 1-79 1-95 1 191 1-23 1-38 1 70 1-31 1 53 1-96 1 22 1 85 1-117 1 18 1 98 1-45 1 8 1-122 1 54 1 33 1-7 1 35 1 37 1-28 1 30 1-28 1 14 1-120 1 115 1-101 1 62 1-6 1-33 1 48 1 51 1-87 1 64 1-36 1-19 1 54 1-138 1 59 1-134 1 244 1-38 1-20 1-138 1 193 1-21 1-21 1-62 1 97 1 12 1-195 1 139 1-1 1 5 1 47 1-188 1 169 1-55 1-73 1-83 1 166 1-177 1 162 1 68 1-103 1 78 1 7 1-19 1-287 1 299 1-146 1 137 1-9 1 36 1 3 1-19 1-29 1 35 1-11 1 24 1-17 1-13 1-81 1 2 1 52 1-18 1 6 1 36 1 43 1-9 1-146 1 95 1 59 1-96 1 60 1-157 1 123 1 0 1 4 1 44 1-52 1-10 1 77 1-27 1 29 1-5 1 19 1 2 1-26 1-65 1 15 1-172 1 181 1 3 1 39 1-19 1-79 1 105 1 13 1-124 1 62 1 33 1 2 1 22 1-105 1 67 1-36 1 37 1-55 1 97 1-5 1-33 1 17 1-45 1 22 1 6 1 29 1-24 1-19 1 20 1 21 1-51 1 41 1 8 1-5 1 17 1-39 1 30 1-79 1 74 1-11 1 26 1-4 1-50 1 15 1-5 1 14 1 25 1 9 1-38 1-13 1 23 1-39 1 41 1-12 1-29 1-25 1 60 1-53 1 59 1-2 1-46 1-7 1 54 1-4 1-1 1-1 1-55 1 17 1 46 1-18 1-72 1 74 1 39 1-89 1 53 1-11 1-59 1 77 1-33 1 8 1 56 1-63 1 33 1-18 1-2 1-55 1 61 1-34 1 44 1-7 1-26 1-1 1 45 1 22 1-90 1-6 1 90 1-7 1 10 1-12 1-132 1 103 1-126 1 84 1 87 1-208 1 126 1 31 1-49 1-10 1 101 1-37 1-11 1-135 1 129 1 51 1 7 1-29 1-120 1 151 1-52 1 38 1-79 1 7 1 24 1-41 1 83 1-50 1-13 1 42 1-22 1 18 1-105 1 152 1-217 1 182 1 14 1 17 1 3 1-111 1 108 1-52 1-25 1-27 1 71 1 7 1-31 1-33 1 77 1-111 1-6 1-60 1 127 1 29 1-18 1-29 1 83 1-5 1-27 1 15 1-27 1 40 1 1 1-17 1 21 1-53 1-64 1 97 1-14 1-35 1 70 1-7 1 6 1-4 1-33 1-4 1 33 1-5 1-26 1-30 1 41 1-12 1 31 1-20 1 4 1 17 1-2 1-156 1 160 1-3 1-69 1 68 1-11 1-15 1 26 1-12 1 17 1-12 1-9 1-10 1 31 1 4 1-24 1-6 1 35 1-13 1-44 1 52 1-27 1 28 1-9 1 5 1-3 1-10 1 8 1-39 1 40 1-19 1 5 1 19 1 4 1-18 1-2 1 22 1-42 1 23 1 9 1-25 1 32 1-2 1-15 1 16 1-32 1 36 1-42 1 17 1-11 1 25 1-84 1-6 1 68 1 12 1 2 1 7 1-46 1 38 1-8 1-17 1-37 1 53 1 24 1 2 1-1 1-8 1 5 1-24 1 21 1-14 1-46 1 65 1-14 1-13 1 29 1-10 1-19 1-3 1-26 1 48 1 10 1-39 1 0 1 21 1 3 1 15 1-38 1-13 1 47 1-23 1 19 1-33 1 30 1-18 1 17 1 13 1-9 1-2 1 5 1 3 1-38 1 43 1-8 1 6 1-7 1 7 1-18 1 2 1 18 1-3 1 3 1-20 1 13 1-4 1-2 1 5 1-7 1 4 1-15 1 17 1-16 1-9 1 29 1-15 1 14 1-9 1 15 1-7 1-14 1-1 1 19 1-30 1 13 1-7 1 21 1-14 1 11 1-38 1-1 1 42 1 2 1-3 1-8 1 11 1 1 1-11 1 12 1-19 1 5 1 4 1 9 1-11 1 7 1 5 1-5 1-9 1-5 1 20 1 1 1-49 1 13 1 29 1 6 1-14 1-16 1 16 1-5 1 11 1-18 1 25 1-4 1-19 1 11 1 13 1-8 1-12 1 21 1-27 1 28 1-2 1-2 1-2 1-7 1-30 1 27 1-13 1 22 1 4 1-14 1-5 1-11 1-1 1 8 1-10 1 11 1 14 1 3 1-12 1 11 1-15 1 3 1 13 1-15 1 17 1-4 1-19 1 23 1-41 1 26 1 12 1-3 1 1 1-16 1 15 1-12 1 19 1-12 1-8 1 11 1-6 1 19 1-19 1 14 1-34 1-1 1 33 1-6 1 9 1-5 1-16 1 13 1-1 1-57 1 68 1-11 1-3 1 1 1 2 1-31 1-10 1 33 1-3 1 1 1 10 1-6 1-10 1-5 1 28 1-18 1-7 1 28 1-24 1-6 1 14 1 17 1-60 1 47 1 4 1-22 1-6 1 39 1-17 1-2 1-47 1 55 1-39 1 49 1-30 1 17 1-8 1-1 1 21 1-11 1 0 1-7 1-6 1 3 1-6 1 11 1 5 1 5 1 2 1-1 1-15 1-12 1 27 1-7 1-17 1-9 1 25 1 0 1 2 1 2 1 1 1 7 1-8 1-10 1-15 1 36 1-11 1-30 1 25 1-9 1 16 1 7 1-25 1 14 1 3 1 5 1-10 1 10 1-4 1-5 1 2 1-18 1 22 1-1 1-3 1-37 1 47 1-4 1-1 1-6 1 2 1-5 1 14 1-1 1-4 1 1 1-13 1 6 1 4 1 7 1-26 1 17 1 5 1-19 1 2 1 0 1 16 1-9 1 11 1 0 1-3 1-21 1 6 1 4 1 15 1-3 1-9 1 17 1-4 1 0 1-22 1 22 1-17 1 17 1-6 1 5 1-28 1-29 1 4 1 56 1-37 1 29 1 8 1-64 1 52 1 8 1-12 1-32 1 8 1 34 1 1 1-29 1 30 1-6 1-72 1 79 1-8 1 4 1 7 1-8 1-3 1 8 1-2 1-27 1 16 1 11 1-20 1-34 1 31 1-6 1-2 1 19 1 1 1-33 1 8 1 36 1-9 1 4 1-32 1-8 1 46 1-68 1 59 1 6 1 2 1-2 1-13 1 13 1-73 1 73 1-44 1 15 1 23 1-5 1 17 1-5 1-13 1 4 1 3 1-4 1 10 1-53 1 44 1 17 1-24 1 19 1-3 1 5 1-22 1 21 1-9 1 11 1-10 1-49 1 29 1 18 1-35 1 42 1-7 1 9 1-14 1-22 1 21 1 7 1-25 1-7 1 34 1-12 1-3 1 15 1-3 1 8 1-15 1 3 1 9 1 1 1 7 1-1 1-76 1 59 1 18 1-23 1-6 1 14 1 7 1 1 1-27 1-23 1 40 1-2 1 3 1-24 1 29 1-25 1 23 1-26 1 19 1 10 1 1 1-19 1 5 1 15 1-13 1-1 1-24 1 29 1-9 1-30 1 34 1-28 1 37 1 13 1-28 1 22 1-17 1 11 1-10 1-53 1 23 1 36 1-4 1 14 1-9 1 9 1-10 1 10 1-43 1 48 1-12 1-6 1 18 1-3 1-53 1 34 1 13 1-9 1-19 1 25 1-41 1 45 1-8 1 18 1-19 1-13 1 8 1-19 1 25 1 1 1 14 1-12 1 15 1-17 1 16 1 0 1-29 1-13 1 25 1 13 1-14 1 2 1-42 1 15 1-7 1 32 1 7 1-58 1 64 1 4 1 0 1-7 1-49 1 54 1-70 1 41 1 7 1-39 1 31 1 15 1-9 1 0 1-38 1 12 1 24 1 20 1-141 1 143 1-72 1 5 1-114 1 15 1 159 1-84 1 61 1-24 1 44 1-26 1 3 1-33 1-5 1-317 1 396 1-107 1 68 1-3 1-23 1 30 1-31 1-93 1 94 1-32 1 31 1-116 1 168 1-108 1 21 1 71 1-26 1-35 1 8 1-24 1 90 1 6 1-18 1-229 1 232 1 17 1-91 1 55 1-26 1-72 1 89 1-228 1 200 1 22 1 45 1-90 1 63 1-8 1 24 1-139 1 55 1 98 1-130 1 41 1 44 1 30 1 10 1-117 1-26 1 137 1-34 1 1 1-81 1-7 1 126 1-130 1 45 1-174 1 264 1-130 1-71 1 118 1 23 1-5 1-64 1-99 1 111 1 41 1 2 1-49 1-353 1 358 1 120 1-121 1 77 1-37 1-51 1-82 1 120 1-167 1 181 1 16 1 8 1 56 1-6 1-203 1 136 1 73 1-25 1-130 1 118 1-117 1 104 1 54 1-56 1 20 1 22 1-212 1 87 1 29 1-15 1-234 1 349 1-30 1 41 1-117 1 61 1 10 1-67 1 93 1-35 1 50 1-47 1 26 1-6 1-148 1-47 1 118 1-61 1 133 1-253 1 105 1-37 1 31 1 179 1-30 1-18 1 24 1 8 1-33 1 59 1-35 1 41 1-97 1-54 1 130 1-106 1 118 1-33 1-11 1 52 1-32 1-124 1 112 1 39 1-103 1 93 1-104 1-3 1-6 1 9 1-4 1-167 1 191 1 44 1 55 1-23 1 19 1-6 1-249 1 183 1-306 1 59 1 247 1 3 1-109 1 110 1 69 1-17 1-152 1 83 1-52 1 97 1-13 1 11 1-11 1-45 1-140 1 218 1 18 1-22 1-360 1 188 1 192 1-15 1-20 1-102 1 113 1-57 1 57 1-120 1 76 1-50 1 12 1 25 1 24 1 35 1-101 1 94 1-71 1 85 1-10 1-22 1 2 1-106 1 41 1 73 1 23 1-29 1-23 1-106 1 71 1 58 1-44 1 34 1-35 1 28 1 40 1-93 1-115 1 96 1 121 1-8 1 6 1-54 1 11 1-53 1 61 1 22 1-62 1 28 1 32 1-30 1-9 1 12 1-16 1 66 1-40 1 42 1-53 1 62 1-8 1-62 1-15 1 27 1 12 1-60 1 88 1 22 1-67 1 25 1 29 1 0 1-32 1-11 1 49 1-8 1 7 1-1 1-19 1 15 1-28 1 25 1-16 1-39 1 38 1 27 1-2 1-34 1 6 1-28 1-9 1 54 1 9 1-17 1-54 1 68 1 9 1-27 1-9 1 7 1 7 1-46 1 20 1 45 1-1 1-17 1-38 1-12 1 65 1-25 1-1 1-45 1 42 1-13 1 50 1-49 1 36 1-25 1-7 1-22 1 2 1 26 1-24 1 55 1 10 1-43 1 6 1 34 1-12 1-166 1 176 1 4 1-86 1 74 1 9 1-44 1 49 1-18 1-2 1-13 1 8 1-14 1 7 1-6 1 30 1 1 1-93 1 39 1 43 1 12 1-32 1-19 1 55 1-115 1 78 1 38 1-4 1-1 1-21 1-25 1-72 1 15 1 59 1 46 1-53 1 55 1-84 1 53 1 7 1-115 1 110 1 20 1-9 1-131 1 114 1-11 1 9 1-14 1 34 1-59 1 64 1 3 1-33 1 12 1-48 1-144 1 159 1 53 1-39 1 48 1-161 1 84 1 38 1-48 1 77 1 1 1-38 1 7 1 24 1-7 1-67 1-28 1 70 1-23 1-45 1 32 1 60 1-67 1 17 1 55 1 1 1 11 1-53 1-63 1-278 1 334 1 53 1-48 1 49 1-197 1 74 1 53 1-129 1-39 1 242 1-71 1-47 1 72 1-189 1 104 1-3 1 124 1-230 1 175 1-24 1 20 1-27 1-47 1-31 1 164 1-38 1 40 1-118 1 99 1-11 1 45 1-112 1 4 1 83 1-87 1-153 1 118 1 89 1-73 1 87 1-86 1 92 1-35 1-63 1 82 1-182 1 81 1 98 1 35 1-18 1-36 1 68 1-45 1 23 1-162 1-206 1 395 1-157 1 132 1-18 1-28 1-52 1 44 1-184 1 207 1-202 1-47 1 108 1 143 1-148 1 209 1-2 1-40 1 19 1-34 1 12 1-46 1 77 1-112 1 102 1-53 1-37 1 12 1-7 1 34 1 15 1-8 1 23 1-64 1-43 1 66 1 51 1-82 1 95 1-33 1 36 1 4 1-26 1-35 1 28 1-9 1-1 1-87 1-17 1-19 1 145 1-60 1 51 1-53 1 75 1-46 1-82 1-92 1 230 1-83 1 40 1 52 1-72 1 56 1-76 1 81 1-67 1 83 1-57 1-119 1 144 1-107 1 57 1 29 1 18 1-170 1 132 1 37 1 13 1-12 1-44 1-236 1 153 1 53 1 81 1-113 1 102 1 23 1-81 1 60 1 30 1-101 1-35 1 79 1 25 1 33 1-23 1-39 1-171 1 200 1 30 1-95 1 19 1 38 1 8 1 3 1-44 1-94 1 8 1 119 1-40 1 85 1-14 1-141 1 151 1 3 1-80 1 11 1 51 1-11 1-128 1 36 1-113 1 181 1-90 1 112 1-133 1 0 1 159 1-203 1 183 1-44 1-190 1 216 1-102 1 79 1 43 1-120 1 86 1-35 1 88 1-39 1-11 1-120 1 164 1-62 1-13 1 49 1-57 1 53 1-127 1-32 1 47 1 150 1-12 1 13 1-49 1-31 1-19 1 73 1-153 1 89 1-41 1 4 1 118 1-28 1-127 1 163 1-83 1 52 1-54 1 42 1-169 1 206 1 3 1-102 1-26 1 34 1-126 1 159 1 7 1 49 1-98 1-70 1-16 1 179 1-209 1 224 1-42 1-37 1-54 1 133 1-15 1-51 1-33 1-13 1 25 1 43 1 28 1-68 1 36 1 19 1-30 1 29 1-13 1 7 1-102 1-115 1 231 1 4 1-48 1-33 1 38 1 10 1-36 1 53 1 5 1-20 1 26 1-52 1 37 1-44 1-13 1 86 1-21 1-18 1 25 1-5 1 9 1-13 1-33 1 50 1 5 1-49 1 24 1 26 1 2 1-104 1 107 1-4 1 4 1 6 1-19 1 6 1-74 1 68 1-33 1-17 1 55 1-54 1 53 1-34 1-54 1 95 1-20 1-22 1 1 1 3 1 32 1 12 1-14 1-77 1 94 1-55 1 34 1-7 1-3 1-5 1 32 1-11 1-10 1 12 1 9 1-31 1-17 1 38 1-48 1 7 1 35 1 14 1-34 1 37 1-13 1 11 1-5 1 3 1 6 1-22 1-21 1 30 1-22 1-11 1 8 1 29 1-48 1 32 1 17 1 1 1-6 1 1 1-8 1 13 1-21 1 18 1-2 1 6 1 4 1-7 1 4 1-11 1 9 1 4 1-13 1 16 1-11 1 4 1-1 1-42 1 27 1-10 1 29 1-5 1 3 1-2 1-11 1 8 1 11 1-2 1-34 1 0 1 34 1-13 1 14 1-15 1 3 1 11 1-1 1-1 1-6 1 6 1-8 1-3 1 15 1-14 1 11 1 2 1-3 1 0 1-3 1 1 1-18 1 18 1-6 1-6 1 5 1 8 1-18 1 19 1-12 1-2 1 16 1-20 1 6 1 17 1-4 1 2 1-1 1-1 1-7 1-2 1 0 1 10 1 3 1-5 1-1 1 1 1-8 1 7 1 1 1-3 1-21 1 2 1 18 1 5 1 1 1 0 1-1 1-3 1 2 1 4 1-7 1-2 1-3 1 5 1 2 1 0 1 1 1 2 1-24 1 6 1 13 1-6 1 9 1 3 1-1 1-4 1 1 1 1 1 4 1-9 1 8 1 0 1-8 1 8 1-3 1-3 1-4 1 6 1-1 1-1 1 1 1-3 1 3 1 0 1 4 1-1 1-13 1 2 1 7 1 0 1 0 1 4 1 0 1 2 1-20 1 12 1-2 1 11 1-17 1 15 1-15 1 7 1 0 1-1 1 3 1 5 1-9 1 11 1-10 1 6 1-8 1 12 1-17 1 15 1-11 1-1 1 14 1-22 1 19 1-4 1-1 1 0 1 6 1-13 1-7 1 8 1 11 1-3 1-4 1 4 1 8 1-3 1-2 1-18 1 22 1-6 1 3 1-4 1-5 1-4 1-2 1 19 1-9 1 1 1 7 1-14 1-8 1 21 1-17 1 11 1-1 1 3 1 3 1 1 1-7 1 2 1-10 1 14 1-5 1-7 1 11 1 0 1-2 1-6 1 5 1-10 1 5 1-3 1 10 1 2 1 1 1 0 1-3 1-4 1 0 1 8 1-12 1 13 1-17 1 15 1-2 1 4 1-6 1-4 1-3 1 0 1 9 1-15 1 12 1 5 1-4 1-12 1 16 1-7 1 7 1-1 1-3 1-8 1 12 1 0 1-3 1-7 1 10 1-10 1 8 1-4 1 5 1 0 1-6 1 3 1-3 1-2 1 4 1-10 1 5 1 9 1-5 1 6 1-13 1 13 1-1 1-9 1-5 1 16 1-8 1 4 1-4 1-9 1 7 1 11 1-3 1-4 1 0 1 5 1 1 1-25 1 24 1-26 1 18 1-11 1 20 1-3 1-16 1 0 1 17 1-3 1-2 1-2 1 5 1 2 1-33 1 19 1 15 1 0 1-3 1 0 1 1 1-4 1 3 1 0 1-5 1 6 1-9 1-4 1 10 1 6 1-9 1 0 1 9 1-13 1 3 1-18 1 14 1 4 1-2 1 4 1 3 1-10 1 2 1 0 1 12 1 0 1-1 1-7 1 6 1 3 1-4 1-6 1-1 1-6 1 7 1 5 1-1 1-23 1 29 1-11 1 7 1-1 1 3 1 0 1-25 1 14 1 4 1 5 1-14 1 9 1 7 1-2 1 4 1-2 1 1 1-4 1 3 1 1 1-9 1 10 1-7 1 3 1-5 1 4 1-1 1 5 1-8 1 3 1 0 1 3 1 0 1-9 1 7 1-9 1 3 1 1 1-4 1-6 1 19 1-10 1-4 1 5 1 4 1 2 1-2 1 6 1-8 1 0 1-1 1 7 1-3 1-11 1 5 1 11 1-7 1-5 1-4 1 6 1-12 1 9 1 6 1 7 1-2 1-4 1-11 1 9 1-10 1 13 1-10 1 3 1 8 1 4 1-1 1-2 1-4 1-8 1 3 1 1 1 3 1 8 1-8 1 6 1 1 1-10 1 2 1-2 1 12 1-15 1 11 1 3 1-3 1-1 1-12 1-1 1 18 1-11 1 9 1-21 1 8 1 10 1 2 1 2 1-21 1 14 1-11 1-7 1 15 1 8 1-1 1-10 1 8 1-1 1-15 1 18 1 3 1-9 1 10 1-19 1 1 1 8 1-4 1 7 1-5 1 4 1 6 1-4 1 1 1-4 1 3 1 0 1 5 1-3 1-1 1-2 1 3 1-11 1 3 1 8 1-12 1 6 1-9 1 16 1 0 1-5 1 7 1-11 1 3 1 4 1 0 1-22 1 11 1 4 1 6 1 4 1-10 1 7 1 2 1 1 1-16 1 6 1 2 1 6 1-4 1 8 1-5 1-6 1 7 1-8 1-4 1 5 1-1 1 5 1 0 1 3 1-12 1 6 1 6 1-2 1-5 1-1 1-6 1 14 1-7 1 9 1 0 1-7 1 4 1 4 1-13 1 12 1-6 1-3 1 11 1-11 1 7 1-25 1 22 1-1 1-13 1 21 1-4 1-6 1 5 1-3 1-13 1 18 1-3 1-15 1 10 1 5 1-12 1 15 1 1 1-3 1-1 1 4 1-7 1-7 1 11 1-17 1 14 1 7 1 1 1-6 1-8 1-3 1 5 1 10 1-17 1 10 1 4 1-12 1 10 1 7 1-3 1-6 1-9 1-2 1 14 1-1 1 2 1 3 1-8 1 8 1-8 1 3 1-7 1 13 1-21 1 11 1-3 1 6 1-8 1 8 1-6 1-1 1 9 1 1 1 0 1-8 1 3 1 2 1-8 1 0 1 7 1 4 1-2 1 3 1 0 1 4 1-3 1-8 1 8 1-3 1 3 1-14 1 16 1-6 1-12 1 17 1-3 1 0 1 0 1 0 1-2 1-7 1-1 1 4 1-5 1 11 1 4 1 0 1-12 1-14 1 11 1-1 1 7 1 0 1 0 1 3 1 1 1 4 1-2 1-1 1-7 1 9 1 2 1 1 1-13 1 5 1-6 1-4 1 1 1 5 1 10 1 1 1-10 1 6 1 4 1-4 1-2 1-4 1-4 1-10 1 24 1-9 1 10 1-2 1-35 1 28 1-16 1 22 1-3 1 2 1 0 1-8 1 8 1-8 1 8 1 2 1-8 1-4 1 7 1 3 1-4 1 6 1 0 1-21 1 19 1-11 1 12 1-5 1 1 1-8 1 10 1-11 1 4 1 3 1 2 1-9 1 14 1-1 1 3 1-11 1 7 1 3 1-7 1 1 1-18 1 20 1 4 1-17 1 13 1 2 1 2 1 0 1-6 1-2 1 9 1-9 1 4 1-9 1 11 1 0 1-3 1-4 1 1 1 4 1 0 1 3 1-9 1 5 1-5 1-5 1 6 1 3 1-3 1 0 1-1 1-6 1-11 1 26 1-3 1 0 1-3 1-3 1 6 1-20 1 12 1 7 1 5 1-15 1 6 1 7 1-7 1-12 1-3 1 23 1-1 1-3 1-5 1 6 1-4 1 3 1 1 1-20 1 15 1 3 1-5 1 8 1 2 1-3 1-5 1-3 1 5 1-12 1 12 1 4 1-1 1-18 1 19 1-1 1 3 1 1 1 1 1-6 1 5 1-4 1-10 1 13 1-3 1-2 1 6 1-15 1 5 1 4 1 4 1 0 1-1 1-8 1 4 1 6 1-2 1 3 1-8 1 8 1-3 1-4 1 6 1-5 1 2 1-2 1 1 1-14 1 4 1-1 1 4 1 1 1-8 1 8 1 1 1 8 1-2 1 0 1 0 1-7 1-4 1 13 1-5 1-8 1 16 1-7 1-14 1 20 1-4 1-15 1 18 1-1 1-26 1 25 1-1 1 1 1 3 1-24 1 20 1 4 1-16 1 4 1-17 1 24 1 0 1 4 1 0 1 1 1-4 1-7 1-7 1 14 1-9 1 2 1 6 1-19 1 22 1 0 1-11 1 4 1 6 1-4 1-8 1 6 1-10 1 19 1-3 1-15 1 10 1-1 1 7 1-2 1-11 1 12 1-19 1 20 1-5 1 4 1-8 1 4 1 7 1-6 1 3 1 0 1-2 1-7 1 5 1 1 1-13 1 12 1 2 1 1 1 3 1-14 1 9 1 3 1-5 1-3 1-6 1 17 1-11 1 11 1 0 1-7 1 0 1 6 1-2 1-12 1 16 1-6 1-2 1 5 1 1 1-3 1-9 1 7 1 2 1 2 1-11 1 8 1-5 1-6 1-10 1 9 1 11 1-5 1-5 1 16 1-13 1 14 1-2 1-1 1-6 1 7 1-6 1-4 1 4 1 2 1-3 1 2" fill="none" stroke="#0072bd" stroke-width="0.6" vector-effect="non-scaling-stroke" stroke-linejoin="round"/><path d="M351.55 361.30V325.25M353.29 361.30V333.76M354.08 361.30V337.47M355.60 361.30V292.93M357.88 361.30V344.34M359.78 361.30V341.98M360.10 361.30V345.57M362.00 361.30V310.34M363.90 361.30V337.61M365.48 361.30V342.38M367.38 361.30V338.46M369.60 361.30V340.00M370.54 361.30V338.03M373.39 361.30V330.70M374.34 361.30V342.98M377.83 361.30V351.44M380.68 361.30V347.50M384.16 361.30V344.36M386.06 361.30V345.81M395.24 361.30V330.06M414.87 361.30V356.76M429.43 361.30V347.38M431.33 361.30V350.49M432.60 361.30V347.02M434.49 361.30V350.91M437.34 361.30V343.93M439.24 361.30V351.73M442.09 361.30V351.30M456.02 361.30V351.37M458.24 361.30V353.25M460.77 361.30V350.32M462.35 361.30V352.06M464.57 361.30V353.26M467.10 361.30V352.00M373.05 361.30V350.77M371.25 361.30V350.92M354.28 361.30V341.33M365.27 361.30V342.92M370.55 361.30V347.86M366.88 361.30V350.98M356.83 361.30V341.87M352.76 361.30V343.75M357.16 361.30V341.28M364.70 361.30V349.76M371.32 361.30V349.07M364.04 361.30V344.14M355.65 361.30V350.01M355.62 361.30V347.99M363.25 361.30V347.57M358.28 361.30V345.72M353.71 361.30V344.37M363.55 361.30V349.41M351.54 361.30V343.31M354.28 361.30V351.63M353.81 361.30V347.93M375.49 361.30V349.02M353.05 361.30V343.92M362.05 361.30V344.33M360.84 361.30V344.37M374.52 361.30V353.29M354.57 361.30V347.43M355.18 361.30V342.31M368.54 361.30V345.85M366.70 361.30V351.09M382.70 361.30V354.74M386.67 361.30V355.18M382.32 361.30V355.02M385.47 361.30V349.15M380.55 361.30V355.08M385.73 361.30V351.74" stroke="#0072bd" stroke-width="0.5" fill="none" opacity="0.8"/><text x="432.90" y="280.90" text-anchor="middle" class="l" style="font-size:4.5px">Spectrum of denoised signal after SR</text><text x="440.70" y="376.80" text-anchor="middle" class="l" style="font-size:4.55px">frequency f/Hz</text><text transform="translate(330.65 330.05) rotate(-90)" text-anchor="middle" class="l" style="font-size:4.7px">Spectrum amplitude</text><rect x="356.70" y="293.43" width="39" height="22.9" rx="0.8" fill="#f9f9fd" stroke="#a6a6a6" stroke-width="0.65"/><circle cx="355.60" cy="292.93" r="1.15" fill="#111"/><text x="359.40" y="301.03" class="dl">X</text><text x="365.10" y="301.03" class="dv">158</text><text x="359.40" y="309.73" class="dl">Y</text><text x="365.10" y="309.73" class="dv">0.0179673</text><text x="441.20" y="399.90" text-anchor="middle" class="s">(<tspan font-weight="bold" font-size="11">f</tspan>)</text><circle cx="319.20" cy="378.80" r="0.6" fill="#777"/></g>
</g>
</svg>
</body></html>
